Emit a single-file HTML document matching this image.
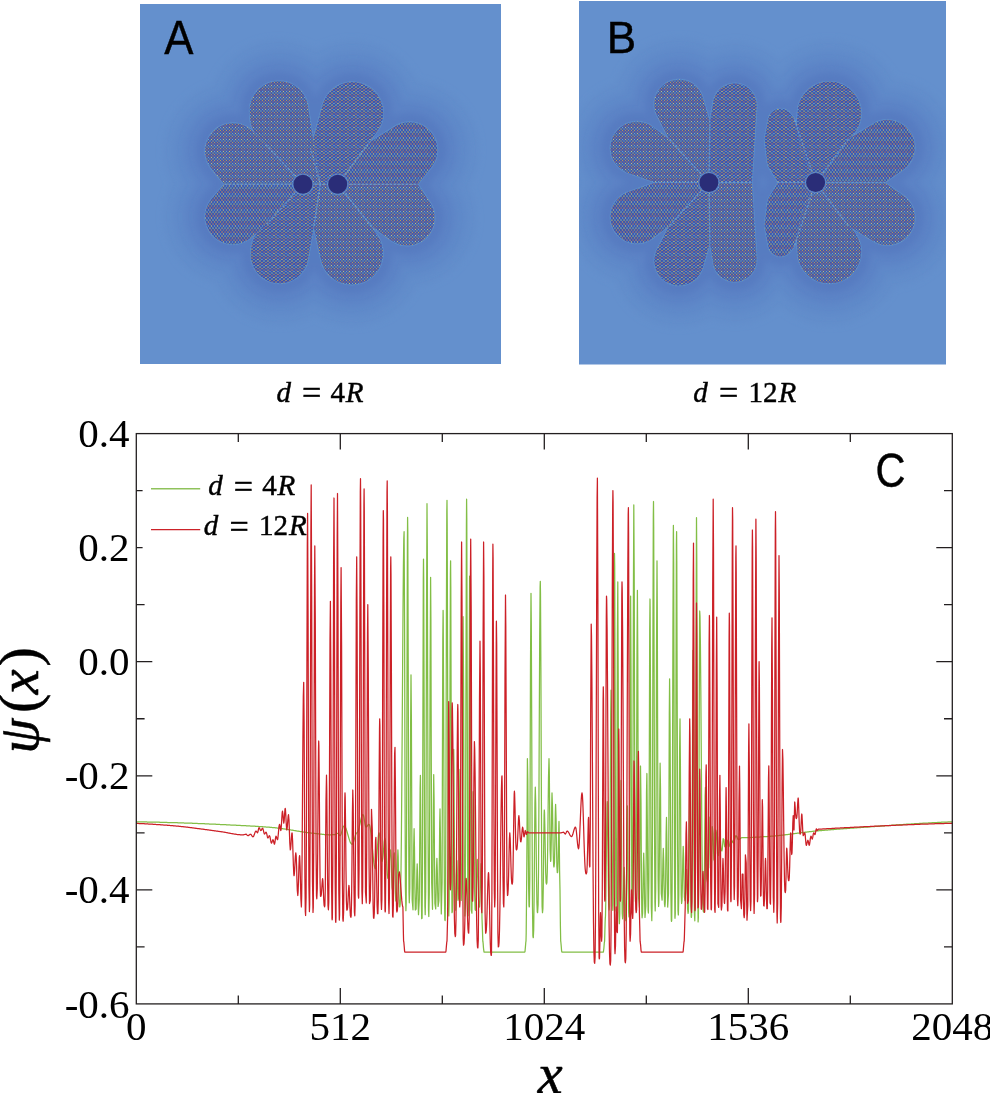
<!DOCTYPE html>
<html lang="en"><head><meta charset="utf-8"><title>Figure</title>
<style>html,body{margin:0;padding:0;background:#fff}svg{display:block}</style>
</head><body>
<svg width="990" height="1093" viewBox="0 0 990 1093">
<rect width="990" height="1093" fill="#ffffff"/>
<defs>
<filter id="blurA" x="-30%" y="-30%" width="160%" height="160%"><feGaussianBlur stdDeviation="13"/></filter>
<filter id="blurB" x="-20%" y="-20%" width="140%" height="140%"><feGaussianBlur stdDeviation="3"/></filter>
<pattern id="fp0" width="6" height="6" patternUnits="userSpaceOnUse"><rect width="6" height="6" fill="#3452b6"/><circle cx="0" cy="0" r="0.74" fill="#b88c5c"/><circle cx="0" cy="3" r="0.74" fill="#a8b070"/><circle cx="0" cy="6" r="0.74" fill="#b88c5c"/><circle cx="3" cy="0" r="0.74" fill="#a07870"/><circle cx="3" cy="3" r="0.74" fill="#80b0a0"/><circle cx="3" cy="6" r="0.74" fill="#a07870"/><circle cx="6" cy="0" r="0.74" fill="#b88c5c"/><circle cx="6" cy="3" r="0.74" fill="#a8b070"/><circle cx="6" cy="6" r="0.74" fill="#b88c5c"/><circle cx="1.5" cy="1.5" r="0.68" fill="#c8c470"/><circle cx="1.5" cy="4.5" r="0.68" fill="#a88a64"/><circle cx="4.5" cy="1.5" r="0.68" fill="#70a8c4"/><circle cx="4.5" cy="4.5" r="0.68" fill="#b8985c"/></pattern>
<pattern id="fp1" width="8" height="6" patternUnits="userSpaceOnUse"><rect width="8" height="6" fill="#3452b6"/><circle cx="0" cy="0" r="0.8544783984006461" fill="#a07870"/><circle cx="0" cy="3" r="0.8544783984006461" fill="#80b0a0"/><circle cx="0" cy="6" r="0.8544783984006461" fill="#a07870"/><circle cx="4" cy="0" r="0.8544783984006461" fill="#b88c5c"/><circle cx="4" cy="3" r="0.8544783984006461" fill="#a8b070"/><circle cx="4" cy="6" r="0.8544783984006461" fill="#b88c5c"/><circle cx="8" cy="0" r="0.8544783984006461" fill="#a07870"/><circle cx="8" cy="3" r="0.8544783984006461" fill="#80b0a0"/><circle cx="8" cy="6" r="0.8544783984006461" fill="#a07870"/><circle cx="2.0" cy="1.5" r="0.79" fill="#c8c470"/><circle cx="2.0" cy="4.5" r="0.79" fill="#a88a64"/><circle cx="6.0" cy="1.5" r="0.79" fill="#70a8c4"/><circle cx="6.0" cy="4.5" r="0.79" fill="#b8985c"/></pattern>
<pattern id="fp2" width="6" height="8" patternUnits="userSpaceOnUse"><rect width="6" height="8" fill="#3452b6"/><circle cx="0" cy="0" r="0.8544783984006461" fill="#b88c5c"/><circle cx="0" cy="4" r="0.8544783984006461" fill="#a8b070"/><circle cx="0" cy="8" r="0.8544783984006461" fill="#b88c5c"/><circle cx="3" cy="0" r="0.8544783984006461" fill="#a07870"/><circle cx="3" cy="4" r="0.8544783984006461" fill="#80b0a0"/><circle cx="3" cy="8" r="0.8544783984006461" fill="#a07870"/><circle cx="6" cy="0" r="0.8544783984006461" fill="#b88c5c"/><circle cx="6" cy="4" r="0.8544783984006461" fill="#a8b070"/><circle cx="6" cy="8" r="0.8544783984006461" fill="#b88c5c"/><circle cx="1.5" cy="2.0" r="0.79" fill="#c8c470"/><circle cx="1.5" cy="6.0" r="0.79" fill="#a88a64"/><circle cx="4.5" cy="2.0" r="0.79" fill="#70a8c4"/><circle cx="4.5" cy="6.0" r="0.79" fill="#b8985c"/></pattern>
<pattern id="fp3" width="6" height="6" patternUnits="userSpaceOnUse"><rect width="6" height="6" fill="#3452b6"/><circle cx="0" cy="0" r="0.74" fill="#a07870"/><circle cx="0" cy="3" r="0.74" fill="#80b0a0"/><circle cx="0" cy="6" r="0.74" fill="#a07870"/><circle cx="3" cy="0" r="0.74" fill="#b88c5c"/><circle cx="3" cy="3" r="0.74" fill="#a8b070"/><circle cx="3" cy="6" r="0.74" fill="#b88c5c"/><circle cx="6" cy="0" r="0.74" fill="#a07870"/><circle cx="6" cy="3" r="0.74" fill="#80b0a0"/><circle cx="6" cy="6" r="0.74" fill="#a07870"/><circle cx="1.5" cy="1.5" r="0.68" fill="#c8c470"/><circle cx="1.5" cy="4.5" r="0.68" fill="#a88a64"/><circle cx="4.5" cy="1.5" r="0.68" fill="#70a8c4"/><circle cx="4.5" cy="4.5" r="0.68" fill="#b8985c"/></pattern>
<pattern id="fp4" width="8" height="6" patternUnits="userSpaceOnUse"><rect width="8" height="6" fill="#3452b6"/><circle cx="0" cy="0" r="0.8544783984006461" fill="#b88c5c"/><circle cx="0" cy="3" r="0.8544783984006461" fill="#a8b070"/><circle cx="0" cy="6" r="0.8544783984006461" fill="#b88c5c"/><circle cx="4" cy="0" r="0.8544783984006461" fill="#a07870"/><circle cx="4" cy="3" r="0.8544783984006461" fill="#80b0a0"/><circle cx="4" cy="6" r="0.8544783984006461" fill="#a07870"/><circle cx="8" cy="0" r="0.8544783984006461" fill="#b88c5c"/><circle cx="8" cy="3" r="0.8544783984006461" fill="#a8b070"/><circle cx="8" cy="6" r="0.8544783984006461" fill="#b88c5c"/><circle cx="2.0" cy="1.5" r="0.79" fill="#c8c470"/><circle cx="2.0" cy="4.5" r="0.79" fill="#a88a64"/><circle cx="6.0" cy="1.5" r="0.79" fill="#70a8c4"/><circle cx="6.0" cy="4.5" r="0.79" fill="#b8985c"/></pattern>
<pattern id="fp5" width="6" height="8" patternUnits="userSpaceOnUse"><rect width="6" height="8" fill="#3452b6"/><circle cx="0" cy="0" r="0.8544783984006461" fill="#a07870"/><circle cx="0" cy="4" r="0.8544783984006461" fill="#80b0a0"/><circle cx="0" cy="8" r="0.8544783984006461" fill="#a07870"/><circle cx="3" cy="0" r="0.8544783984006461" fill="#b88c5c"/><circle cx="3" cy="4" r="0.8544783984006461" fill="#a8b070"/><circle cx="3" cy="8" r="0.8544783984006461" fill="#b88c5c"/><circle cx="6" cy="0" r="0.8544783984006461" fill="#a07870"/><circle cx="6" cy="4" r="0.8544783984006461" fill="#80b0a0"/><circle cx="6" cy="8" r="0.8544783984006461" fill="#a07870"/><circle cx="1.5" cy="2.0" r="0.79" fill="#c8c470"/><circle cx="1.5" cy="6.0" r="0.79" fill="#a88a64"/><circle cx="4.5" cy="2.0" r="0.79" fill="#70a8c4"/><circle cx="4.5" cy="6.0" r="0.79" fill="#b8985c"/></pattern>
<pattern id="hp0" width="2.7" height="6" patternUnits="userSpaceOnUse" patternTransform="rotate(-45)"><rect x="0" y="0" width="0.8" height="6" fill="#e0c880" opacity="0.07"/><rect x="1.35" y="0" width="0.8" height="6" fill="#1c2890" opacity="0.10"/></pattern>
<pattern id="hp1" width="2.7" height="6" patternUnits="userSpaceOnUse" patternTransform="rotate(48)"><rect x="0" y="0" width="0.8" height="6" fill="#e0c880" opacity="0.07"/><rect x="1.35" y="0" width="0.8" height="6" fill="#1c2890" opacity="0.10"/></pattern>
<pattern id="hp2" width="2.7" height="6" patternUnits="userSpaceOnUse" patternTransform="rotate(-38)"><rect x="0" y="0" width="0.8" height="6" fill="#e0c880" opacity="0.07"/><rect x="1.35" y="0" width="0.8" height="6" fill="#1c2890" opacity="0.10"/></pattern>
<pattern id="hp3" width="2.7" height="6" patternUnits="userSpaceOnUse" patternTransform="rotate(40)"><rect x="0" y="0" width="0.8" height="6" fill="#e0c880" opacity="0.07"/><rect x="1.35" y="0" width="0.8" height="6" fill="#1c2890" opacity="0.10"/></pattern>
<pattern id="hp4" width="2.7" height="6" patternUnits="userSpaceOnUse" patternTransform="rotate(-52)"><rect x="0" y="0" width="0.8" height="6" fill="#e0c880" opacity="0.07"/><rect x="1.35" y="0" width="0.8" height="6" fill="#1c2890" opacity="0.10"/></pattern>
<pattern id="hp5" width="2.7" height="6" patternUnits="userSpaceOnUse" patternTransform="rotate(55)"><rect x="0" y="0" width="0.8" height="6" fill="#e0c880" opacity="0.07"/><rect x="1.35" y="0" width="0.8" height="6" fill="#1c2890" opacity="0.10"/></pattern>
</defs>
<g id="panelA">
<clipPath id="clipA"><rect x="140" y="4" width="361" height="360"/></clipPath>
<rect x="140" y="4" width="361" height="360" fill="#6490cd"/>
<g clip-path="url(#clipA)">
<path d="M171.2 183.9L167.9 191.2L165.1 199.9L163.9 206.1L163.1 215.2L163.5 224.3L164.7 231.6L167.3 240.3L170.9 248.7L178.4 260.2L184.5 266.9L189.3 271.1L200.8 278.6L207.5 281.6L215.1 284.1L218.8 291.2L224.1 298.8L230.4 305.7L237.5 311.6L245.3 316.7L253.7 320.6L262.6 323.4L271.7 325.0L282.9 325.4L294.8 323.8L305.5 320.6L314.2 316.5L326.7 322.3L338.6 325.5L350.2 326.7L362.6 325.9L369.3 324.5L378.4 321.6L387.1 317.5L393.6 313.5L401.1 307.5L405.9 302.7L411.9 295.2L416.9 287.0L430.7 283.5L436.6 281.1L444.6 276.7L452.0 271.3L457.3 266.3L465.8 255.5L470.2 247.5L472.6 241.6L475.2 232.9L476.4 225.6L476.8 216.5L475.7 205.6L473.5 196.8L469.3 186.4L474.7 175.5L477.9 165.0L479.4 153.2L478.7 139.5L476.2 128.8L471.7 117.8L465.9 108.5L458.0 99.5L449.5 92.6L439.2 86.6L428.9 82.8L417.7 80.5L411.1 69.7L403.0 60.4L394.1 53.1L383.4 46.9L377.2 44.3L368.0 41.7L358.5 40.3L349.0 40.1L341.5 40.8L332.2 42.9L323.2 46.1L316.3 49.5L305.1 43.9L294.3 40.7L280.4 39.0L268.3 39.8L259.2 41.8L250.4 45.0L242.1 49.3L234.4 54.6L227.5 60.9L221.5 68.1L216.4 76.0L212.6 84.1L200.8 88.8L191.5 94.6L182.5 102.5L175.6 111.0L170.8 118.8L167.2 127.2L164.1 138.7L163.1 147.8L163.3 156.9L164.6 166.0L167.2 174.8Z" fill="#628dcb" filter="url(#blurB)"/>
<path d="M184.0 183.9L179.7 191.5L176.9 198.7L175.0 206.1L174.2 213.8L174.3 221.5L175.4 229.1L177.6 236.5L180.6 243.5L188.0 254.6L197.9 263.9L209.5 270.5L216.7 273.1L223.1 274.6L226.3 281.9L231.4 290.2L237.9 297.6L243.9 302.7L250.5 307.0L257.6 310.3L265.1 312.7L272.8 314.1L284.5 314.3L294.1 312.7L305.2 308.7L314.4 303.4L324.9 309.7L336.4 313.8L348.5 315.6L360.8 315.0L368.8 313.3L374.6 311.3L382.0 307.8L387.2 304.6L393.6 299.5L400.6 292.0L405.2 285.3L409.5 276.6L415.7 276.0L423.2 274.4L430.4 271.8L437.3 268.3L443.6 263.9L449.3 258.7L457.4 248.2L460.9 241.3L463.5 234.1L465.1 226.6L465.8 216.9L465.1 209.2L463.0 200.0L460.2 192.8L456.3 185.9L462.8 175.2L466.7 164.3L468.4 152.8L467.8 141.3L465.7 132.0L462.0 123.0L456.9 114.9L450.5 107.6L441.4 100.4L431.1 95.1L420.0 92.0L410.4 91.0L405.6 81.1L398.3 71.4L389.3 63.2L378.9 57.0L371.4 54.0L363.5 52.0L355.4 51.1L347.3 51.2L339.3 52.4L331.5 54.6L324.1 57.9L316.1 62.7L304.8 55.8L293.7 51.8L281.9 50.1L270.1 50.7L262.4 52.3L254.9 55.0L247.9 58.6L241.4 63.1L235.5 68.4L229.3 76.1L224.3 84.7L221.0 93.2L209.5 96.9L199.4 102.5L190.6 110.0L183.4 119.1L178.9 127.5L176.3 134.8L174.4 144.3L174.0 152.0L174.7 159.7L176.8 169.0L179.7 176.2Z" fill="#5f89c9" filter="url(#blurB)"/>
<path d="M230.1 103.1L223.0 104.1L217.0 105.8L209.6 109.1L204.3 112.5L199.5 116.6L194.5 122.3L190.2 129.2L187.8 135.0L185.8 142.3L185.1 148.5L185.2 154.8L186.1 161.0L187.8 167.0L190.2 172.8L193.5 178.2L197.9 183.9L191.8 192.1L187.4 201.9L185.4 211.0L185.4 222.2L186.6 228.3L189.0 235.5L192.8 242.6L197.4 248.6L204.3 254.9L212.4 259.8L221.2 262.9L231.6 264.4L234.6 273.9L239.2 282.3L245.4 289.6L252.9 295.6L260.2 299.5L267.6 302.0L275.7 303.3L285.3 303.2L292.9 301.7L300.7 298.7L307.4 294.9L314.5 288.9L319.7 293.7L325.3 297.5L331.3 300.5L337.6 302.8L344.2 304.2L350.9 304.7L357.7 304.3L364.3 303.1L370.7 301.0L377.9 297.5L383.5 293.7L388.5 289.1L392.8 284.0L396.5 278.4L399.4 272.3L401.6 265.4L409.5 265.6L415.7 264.9L421.7 263.4L427.5 261.1L434.1 257.3L439.0 253.4L443.4 248.9L447.1 243.9L450.9 236.8L453.3 229.6L454.6 221.7L454.6 214.1L453.7 207.9L451.4 200.2L448.1 193.4L442.7 185.3L451.4 173.4L454.1 167.8L456.4 160.0L457.3 153.8L457.3 146.2L456.4 140.0L454.1 132.2L450.7 125.4L446.0 118.9L439.2 112.3L432.9 108.1L425.5 104.8L418.2 102.8L410.2 102.0L402.3 102.6L399.3 92.9L394.4 84.1L388.0 76.5L380.2 70.2L372.5 66.1L365.0 63.6L356.4 62.2L346.4 62.4L338.6 63.9L329.3 67.6L321.9 72.1L315.8 77.5L311.1 72.9L306.0 69.0L300.3 65.8L294.3 63.4L288.0 61.8L281.6 61.1L275.1 61.2L268.7 62.1L262.5 63.8L254.8 67.3L248.4 71.6L243.5 76.0L239.3 80.9L234.9 88.0L231.9 95.2Z" fill="#5b83c6" filter="url(#blurB)"/>
<path d="M240.7 114.8L235.1 114.1L228.5 114.3L221.4 115.9L216.4 118.0L210.7 121.5L206.6 125.0L202.1 130.7L198.9 136.6L196.8 143.5L196.1 148.9L196.3 155.5L197.3 160.9L199.7 167.1L202.1 171.3L212.3 184.1L203.5 194.4L199.0 202.2L196.5 211.5L196.4 221.1L198.2 228.7L201.2 235.3L206.7 242.4L212.2 247.0L219.1 250.7L226.0 252.7L233.2 253.4L241.7 252.3L241.9 259.2L242.8 264.0L246.5 273.2L252.5 281.2L260.3 287.3L267.7 290.6L274.9 292.2L284.3 292.2L291.5 290.6L298.3 287.6L304.9 282.9L309.9 277.4L314.5 269.5L318.1 275.9L322.8 281.6L328.9 286.7L334.0 289.6L340.8 292.2L348.7 293.6L354.5 293.6L362.4 292.2L369.2 289.6L374.3 286.7L380.0 282.0L383.9 277.6L387.8 271.4L390.0 265.9L391.7 258.8L392.0 251.5L397.8 253.5L404.9 254.6L411.5 254.4L418.5 252.8L425.1 249.9L429.6 246.9L434.5 242.4L438.7 236.6L441.7 230.0L443.1 224.8L443.8 218.2L443.1 211.0L439.9 201.4L429.1 184.8L440.4 170.3L443.6 164.4L445.2 159.9L446.4 152.7L446.4 147.3L445.3 140.7L443.6 135.6L439.0 127.7L434.1 122.4L428.3 118.1L421.7 115.1L414.0 113.3L406.8 113.1L399.6 114.3L392.1 117.3L392.3 110.7L391.7 105.5L388.1 95.0L384.3 88.9L380.9 84.9L372.7 78.5L365.0 75.0L357.3 73.3L347.5 73.3L339.8 75.0L332.7 78.2L325.8 83.1L319.3 90.5L315.4 97.9L312.5 91.5L308.1 85.3L302.7 80.1L296.3 76.1L289.2 73.4L283.7 72.3L276.2 72.1L268.8 73.4L262.2 75.8L255.8 79.8L251.6 83.5L247.2 88.9L243.5 95.5L241.7 100.8L240.6 107.7Z" fill="#567cc1" filter="url(#blurB)"/>
<path d="M251.9 129.4L248.9 127.1L245.7 125.3L244.0 124.5L240.4 123.3L236.7 122.5L233.0 122.3L229.3 122.5L227.4 122.9L223.8 123.8L220.3 125.2L217.1 127.1L215.5 128.2L212.7 130.7L210.2 133.5L209.1 135.1L207.3 138.3L206.5 140.0L205.3 143.5L204.8 145.4L204.4 149.1L204.4 152.9L204.5 154.8L205.3 158.4L205.8 160.2L207.2 163.7L208.1 165.3L210.2 168.5L223.1 184.3L211.5 197.8L209.2 200.7L208.2 202.4L206.6 205.7L205.4 209.2L205.0 211.0L204.5 214.8L204.5 218.5L204.6 220.3L205.4 224.0L206.6 227.5L208.2 230.8L210.3 234.0L211.5 235.4L214.1 238.0L217.0 240.3L220.3 242.2L223.7 243.6L227.4 244.6L231.1 245.0L232.9 245.1L236.6 244.9L240.3 244.1L243.8 242.9L247.2 241.3L250.2 239.2L254.1 236.0L251.9 241.0L250.9 244.7L250.6 246.6L249.9 254.5L250.2 258.4L250.9 262.2L251.5 264.1L253.0 267.6L253.9 269.4L256.1 272.6L258.6 275.5L260.0 276.8L263.1 279.2L264.8 280.2L266.5 281.1L270.0 282.6L273.8 283.6L275.7 283.9L279.6 284.2L283.5 283.9L287.3 283.2L290.9 281.9L292.7 281.1L296.1 279.2L297.7 278.0L300.6 275.5L303.1 272.6L305.3 269.4L307.0 265.9L308.3 262.2L313.8 231.6L320.5 261.6L321.8 265.5L322.7 267.4L324.8 271.1L327.4 274.4L330.4 277.4L333.7 280.0L337.3 282.1L341.2 283.7L343.3 284.3L347.4 285.1L351.6 285.4L355.8 285.1L360.0 284.3L363.9 283.0L365.8 282.1L369.5 280.0L372.8 277.4L374.4 276.0L377.1 272.8L379.5 269.3L381.4 265.5L382.7 261.5L383.5 257.4L383.8 253.2L383.5 249.0L383.2 246.9L382.1 242.8L380.5 238.9L378.4 235.3L374.5 229.6L391.1 241.6L392.8 242.6L396.1 244.2L399.6 245.4L401.5 245.9L405.2 246.3L407.0 246.4L410.7 246.2L414.4 245.4L417.9 244.2L421.2 242.6L424.3 240.5L427.1 238.1L429.6 235.3L431.7 232.1L433.3 228.8L434.0 227.0L434.9 223.5L435.3 221.6L435.5 217.9L435.4 216.0L435.0 212.4L434.5 210.5L433.3 207.0L431.7 203.6L418.9 184.3L432.3 167.5L434.4 164.3L436.0 161.0L437.2 157.5L437.7 155.6L438.1 151.9L438.2 150.0L438.0 146.3L437.6 144.4L436.7 140.8L436.0 139.0L435.2 137.3L433.4 134.1L431.1 131.1L428.4 128.4L425.4 126.1L422.2 124.2L420.5 123.5L417.0 122.3L413.3 121.5L409.5 121.3L405.8 121.5L403.9 121.9L400.3 122.8L396.8 124.2L395.1 125.2L372.3 139.5L378.8 130.6L380.8 127.0L381.7 125.1L383.0 121.2L383.8 117.2L384.1 113.0L384.0 110.9L383.5 106.8L382.4 102.8L380.8 99.0L378.8 95.4L377.5 93.7L374.8 90.6L371.7 87.8L368.2 85.5L364.6 83.7L362.6 83.0L358.6 81.9L354.5 81.4L352.4 81.3L348.3 81.6L344.2 82.4L340.2 83.7L336.6 85.5L334.8 86.6L331.5 89.2L328.6 92.1L326.1 95.4L324.0 99.0L323.1 100.9L321.8 104.8L313.4 135.5L308.9 106.5L308.2 102.7L307.6 100.8L306.1 97.1L304.1 93.7L301.7 90.6L298.9 87.8L295.8 85.4L292.4 83.4L290.6 82.6L286.8 81.3L283.0 80.6L281.0 80.4L277.0 80.4L273.1 80.9L271.2 81.3L267.5 82.6L263.9 84.3L262.2 85.4L259.1 87.8L257.6 89.2L255.1 92.1L252.9 95.4L251.1 98.9L250.4 100.8L249.4 104.6L249.1 106.6L248.8 110.5L248.9 112.5L249.3 119.0L249.8 122.9L250.8 126.7Z" fill="#64a5d7" opacity="0.45"/>
<path d="M409.5 122.0L404.0 122.5L400.5 123.5L397.1 124.9L369.5 142.0L337.7 184.3L418.0 184.3L431.7 167.0L434.6 162.4L436.0 159.0L437.0 155.5L437.4 151.8L437.3 146.3L436.5 142.8L434.6 137.6L431.7 133.0L428.0 128.9L425.1 126.7L420.2 124.1L415.0 122.5Z" fill="url(#fp2)" stroke="#5f94d6" stroke-width="0.6" stroke-opacity="0.4"/>
<path d="M409.5 122.0L404.0 122.5L400.5 123.5L397.1 124.9L369.5 142.0L337.7 184.3L418.0 184.3L431.7 167.0L434.6 162.4L436.0 159.0L437.0 155.5L437.4 151.8L437.3 146.3L436.5 142.8L434.6 137.6L431.7 133.0L428.0 128.9L425.1 126.7L420.2 124.1L415.0 122.5Z" fill="url(#hp2)"/>
<path d="M352.4 82.0L348.4 82.3L344.4 83.1L340.5 84.4L336.9 86.2L335.2 87.2L332.0 89.7L330.5 91.1L327.8 94.1L325.6 97.5L324.6 99.3L323.0 103.0L310.6 148.5L320.3 184.3L337.7 184.3L377.0 131.9L379.2 128.5L381.0 124.9L381.8 123.0L382.8 119.0L383.3 115.0L383.3 111.0L382.8 107.0L382.3 105.0L381.0 101.1L379.2 97.5L377.0 94.1L374.3 91.1L371.3 88.4L367.9 86.2L366.1 85.2L364.3 84.4L360.4 83.1L356.4 82.3Z" fill="url(#fp1)" stroke="#5f94d6" stroke-width="0.6" stroke-opacity="0.4"/>
<path d="M352.4 82.0L348.4 82.3L344.4 83.1L340.5 84.4L336.9 86.2L335.2 87.2L332.0 89.7L330.5 91.1L327.8 94.1L325.6 97.5L324.6 99.3L323.0 103.0L310.6 148.5L320.3 184.3L337.7 184.3L377.0 131.9L379.2 128.5L381.0 124.9L381.8 123.0L382.8 119.0L383.3 115.0L383.3 111.0L382.8 107.0L382.3 105.0L381.0 101.1L379.2 97.5L377.0 94.1L374.3 91.1L371.3 88.4L367.9 86.2L366.1 85.2L364.3 84.4L360.4 83.1L356.4 82.3Z" fill="url(#hp1)"/>
<path d="M279.0 81.0L275.1 81.3L271.4 82.0L267.7 83.2L264.2 85.0L261.0 87.1L258.1 89.6L255.6 92.5L253.5 95.7L251.7 99.2L250.5 102.9L249.8 106.6L249.6 108.6L249.6 112.4L250.2 120.9L250.9 124.7L252.2 128.3L253.0 130.1L254.9 133.4L257.2 136.5L302.9 184.3L320.3 184.3L308.2 106.6L307.5 102.9L306.3 99.2L304.5 95.8L302.4 92.5L299.9 89.6L298.5 88.3L295.4 86.0L292.0 84.0L290.3 83.2L286.6 82.0L282.9 81.3Z" fill="url(#fp0)" stroke="#5f94d6" stroke-width="0.6" stroke-opacity="0.4"/>
<path d="M279.0 81.0L275.1 81.3L271.4 82.0L267.7 83.2L264.2 85.0L261.0 87.1L258.1 89.6L255.6 92.5L253.5 95.7L251.7 99.2L250.5 102.9L249.8 106.6L249.6 108.6L249.6 112.4L250.2 120.9L250.9 124.7L252.2 128.3L253.0 130.1L254.9 133.4L257.2 136.5L302.9 184.3L320.3 184.3L308.2 106.6L307.5 102.9L306.3 99.2L304.5 95.8L302.4 92.5L299.9 89.6L298.5 88.3L295.4 86.0L292.0 84.0L290.3 83.2L286.6 82.0L282.9 81.3Z" fill="url(#hp0)"/>
<path d="M233.0 123.0L227.5 123.5L224.0 124.5L219.0 126.8L214.5 129.9L210.8 134.0L207.9 138.6L206.5 142.0L205.2 147.3L205.0 151.0L205.2 154.7L206.5 160.0L207.9 163.4L210.8 168.0L224.0 184.3L302.9 184.3L264.6 143.3L251.5 129.9L248.6 127.7L243.7 125.1L238.5 123.5Z" fill="url(#fp3)" stroke="#5f94d6" stroke-width="0.6" stroke-opacity="0.4"/>
<path d="M233.0 123.0L227.5 123.5L224.0 124.5L219.0 126.8L214.5 129.9L210.8 134.0L207.9 138.6L206.5 142.0L205.2 147.3L205.0 151.0L205.2 154.7L206.5 160.0L207.9 163.4L210.8 168.0L224.0 184.3L302.9 184.3L264.6 143.3L251.5 129.9L248.6 127.7L243.7 125.1L238.5 123.5Z" fill="url(#hp3)"/>
<path d="M224.0 184.3L210.8 199.7L208.0 204.3L206.0 209.4L205.3 213.0L205.1 216.6L205.3 220.2L206.6 225.5L208.8 230.5L210.8 233.5L214.6 237.5L219.0 240.7L222.3 242.3L227.5 243.9L232.9 244.4L236.5 244.2L240.1 243.5L243.5 242.3L246.8 240.7L249.8 238.7L267.0 224.2L302.9 184.3Z" fill="url(#fp2)" stroke="#5f94d6" stroke-width="0.6" stroke-opacity="0.4"/>
<path d="M224.0 184.3L210.8 199.7L208.0 204.3L206.0 209.4L205.3 213.0L205.1 216.6L205.3 220.2L206.6 225.5L208.8 230.5L210.8 233.5L214.6 237.5L219.0 240.7L222.3 242.3L227.5 243.9L232.9 244.4L236.5 244.2L240.1 243.5L243.5 242.3L246.8 240.7L249.8 238.7L267.0 224.2L302.9 184.3Z" fill="url(#hp2)"/>
<path d="M302.9 184.3L258.2 231.4L257.0 232.8L254.9 236.0L254.0 237.7L252.5 241.2L251.6 244.8L251.2 246.7L250.6 254.5L250.8 258.3L251.2 260.2L251.6 262.0L252.8 265.6L253.6 267.3L255.5 270.6L256.6 272.2L259.1 275.0L261.9 277.5L263.5 278.6L266.8 280.5L270.3 282.0L272.1 282.5L275.8 283.3L279.6 283.5L281.5 283.4L283.4 283.3L287.1 282.5L290.7 281.3L292.4 280.5L294.1 279.6L297.3 277.5L300.1 275.0L301.4 273.6L303.7 270.6L304.7 269.0L305.6 267.3L307.1 263.8L308.0 260.2L313.7 228.0L320.3 184.3Z" fill="url(#fp1)" stroke="#5f94d6" stroke-width="0.6" stroke-opacity="0.4"/>
<path d="M302.9 184.3L258.2 231.4L257.0 232.8L254.9 236.0L254.0 237.7L252.5 241.2L251.6 244.8L251.2 246.7L250.6 254.5L250.8 258.3L251.2 260.2L251.6 262.0L252.8 265.6L253.6 267.3L255.5 270.6L256.6 272.2L259.1 275.0L261.9 277.5L263.5 278.6L266.8 280.5L270.3 282.0L272.1 282.5L275.8 283.3L279.6 283.5L281.5 283.4L283.4 283.3L287.1 282.5L290.7 281.3L292.4 280.5L294.1 279.6L297.3 277.5L300.1 275.0L301.4 273.6L303.7 270.6L304.7 269.0L305.6 267.3L307.1 263.8L308.0 260.2L313.7 228.0L320.3 184.3Z" fill="url(#hp1)"/>
<path d="M320.3 184.3L313.7 228.0L321.2 261.4L322.5 265.3L323.3 267.1L324.3 268.9L326.6 272.4L327.9 274.0L330.8 276.9L334.1 279.4L335.9 280.5L337.7 281.5L341.5 283.0L345.5 284.1L347.5 284.4L351.6 284.7L353.7 284.6L355.7 284.4L359.8 283.6L363.7 282.3L365.5 281.5L367.4 280.5L370.8 278.2L372.4 276.9L375.3 274.0L377.8 270.7L378.9 268.9L379.9 267.1L381.4 263.3L382.5 259.3L382.8 257.3L383.1 253.2L383.0 251.1L382.8 249.1L382.0 245.0L380.7 241.1L379.9 239.3L377.8 235.7L371.8 226.7L337.7 184.3Z" fill="url(#fp0)" stroke="#5f94d6" stroke-width="0.6" stroke-opacity="0.4"/>
<path d="M320.3 184.3L313.7 228.0L321.2 261.4L322.5 265.3L323.3 267.1L324.3 268.9L326.6 272.4L327.9 274.0L330.8 276.9L334.1 279.4L335.9 280.5L337.7 281.5L341.5 283.0L345.5 284.1L347.5 284.4L351.6 284.7L353.7 284.6L355.7 284.4L359.8 283.6L363.7 282.3L365.5 281.5L367.4 280.5L370.8 278.2L372.4 276.9L375.3 274.0L377.8 270.7L378.9 268.9L379.9 267.1L381.4 263.3L382.5 259.3L382.8 257.3L383.1 253.2L383.0 251.1L382.8 249.1L382.0 245.0L380.7 241.1L379.9 239.3L377.8 235.7L371.8 226.7L337.7 184.3Z" fill="url(#hp0)"/>
<path d="M337.7 184.3L371.8 226.7L391.6 241.0L394.7 242.8L399.8 244.8L405.2 245.6L410.6 245.5L415.9 244.2L420.9 242.0L425.3 238.8L429.1 234.8L431.9 230.2L433.9 225.1L434.7 219.7L434.6 214.3L433.3 209.0L431.1 204.0L418.0 184.3Z" fill="url(#fp3)" stroke="#5f94d6" stroke-width="0.6" stroke-opacity="0.4"/>
<path d="M337.7 184.3L371.8 226.7L391.6 241.0L394.7 242.8L399.8 244.8L405.2 245.6L410.6 245.5L415.9 244.2L420.9 242.0L425.3 238.8L429.1 234.8L431.9 230.2L433.9 225.1L434.7 219.7L434.6 214.3L433.3 209.0L431.1 204.0L418.0 184.3Z" fill="url(#hp3)"/>
<path d="M302.9 184.3L264.6 143.3M302.9 184.3L267.0 224.2M302.9 184.3L224.0 184.3M337.7 184.3L418.0 184.3M337.7 184.3L369.5 142.0M337.7 184.3L371.8 226.7M320.3 184.3L310.6 148.5M320.3 184.3L313.7 228.0M302.9 184.3L337.7 184.3" stroke="#6aa8e0" stroke-width="1.5" stroke-dasharray="2.2 1.8" stroke-opacity="0.6" fill="none"/>
<circle cx="302.9" cy="184.3" r="10.8" fill="#5f94d6" opacity="0.6"/>
<circle cx="302.9" cy="184.3" r="9.5" fill="#2a2d78"/>
<circle cx="337.7" cy="184.3" r="10.8" fill="#5f94d6" opacity="0.6"/>
<circle cx="337.7" cy="184.3" r="9.5" fill="#2a2d78"/>
</g></g>
<g id="panelB">
<clipPath id="clipB"><rect x="579" y="1" width="367" height="363.5"/></clipPath>
<rect x="579" y="1" width="367" height="363.5" fill="#6490cd"/>
<g clip-path="url(#clipB)">
<path d="M577.6 182.5L573.0 192.0L570.3 200.6L568.7 209.4L568.3 218.4L569.4 229.0L571.5 237.7L574.8 246.1L579.1 254.0L586.2 263.2L594.1 270.6L603.8 277.1L615.6 282.2L619.6 291.6L624.2 299.1L630.7 307.1L637.2 313.0L644.4 318.0L654.7 323.1L663.0 325.8L671.6 327.3L682.0 327.6L693.4 326.1L703.3 323.1L711.3 319.4L719.6 322.1L727.8 323.5L737.6 323.8L745.9 322.9L754.1 320.9L764.3 316.7L772.7 311.5L779.2 306.0L787.1 312.3L795.3 317.3L804.2 321.2L813.5 323.9L825.8 325.5L835.5 325.3L845.1 323.9L854.4 321.2L867.5 315.0L877.0 308.1L887.2 297.7L894.3 286.9L906.7 284.6L916.9 280.7L927.1 274.8L935.6 267.9L944.4 257.5L950.3 247.3L954.2 237.1L956.5 225.5L956.8 214.6L955.3 202.9L952.1 192.5L947.3 182.5L952.1 172.6L955.3 162.2L956.8 150.5L956.6 141.4L955.3 132.4L953.6 126.3L950.3 117.8L945.9 109.8L940.5 102.5L935.6 97.2L928.6 91.3L923.3 87.8L916.9 84.4L908.4 81.1L894.3 78.2L890.0 71.3L884.0 63.7L877.0 57.0L869.3 51.2L860.8 46.5L854.4 43.9L845.1 41.2L837.6 40.0L823.1 39.8L816.2 40.7L806.8 43.0L797.8 46.5L791.1 50.1L779.2 59.1L771.5 52.8L761.9 47.2L752.7 43.8L741.8 41.6L733.4 41.2L725.1 41.9L711.3 45.7L703.3 42.0L695.0 39.3L684.7 37.7L676.0 37.5L668.9 38.2L660.4 40.1L646.8 45.7L635.9 53.1L627.8 61.2L620.4 72.1L615.6 82.9L603.8 88.0L592.7 95.6L583.3 105.3L576.0 116.5L572.4 124.8L569.9 133.4L568.6 142.2L568.3 149.5L569.1 158.4L571.0 167.2L574.1 175.6Z" fill="#628dcb" filter="url(#blurB)"/>
<path d="M590.8 182.6L586.5 189.1L582.7 197.5L580.6 204.8L579.4 214.2L579.5 221.8L581.0 230.9L583.3 238.1L587.5 246.7L594.3 255.7L602.7 263.3L612.3 269.1L624.5 273.2L627.8 283.1L632.0 291.0L637.7 298.4L644.2 304.5L650.2 308.7L658.6 312.8L665.5 315.0L672.7 316.3L683.7 316.5L692.5 315.0L701.3 312.0L710.5 307.0L720.1 310.8L728.9 312.6L739.3 312.7L747.5 311.3L757.3 307.9L765.1 303.4L773.0 296.6L778.9 289.3L785.5 296.9L793.5 303.4L802.4 308.5L810.0 311.6L820.1 313.9L828.3 314.6L838.5 313.9L848.6 311.6L859.9 306.7L866.8 302.2L871.6 298.3L876.0 293.9L881.1 287.4L887.2 276.3L897.8 275.4L908.8 272.2L917.5 267.9L926.7 261.1L933.2 254.2L939.4 244.6L943.6 233.9L945.5 224.4L945.7 213.0L943.6 201.7L939.4 191.0L934.1 182.6L938.6 175.7L942.5 167.1L944.6 159.7L945.8 150.1L945.5 140.7L943.6 131.2L940.3 122.3L936.6 115.7L928.0 105.2L922.2 100.3L915.8 96.1L908.8 92.9L901.6 90.5L894.0 89.2L887.2 88.8L883.3 81.1L877.3 72.7L870.1 65.5L863.4 60.6L856.2 56.6L850.5 54.2L842.6 51.9L836.5 50.9L828.3 50.5L820.1 51.2L812.0 52.9L804.3 55.7L796.9 59.5L790.2 64.1L784.0 69.7L778.9 75.8L771.5 67.0L763.4 60.6L754.1 55.9L742.7 52.8L735.8 52.2L726.9 52.8L718.7 54.7L710.5 58.1L702.8 53.7L694.4 50.6L685.3 48.8L678.0 48.4L665.5 50.1L658.6 52.3L651.9 55.4L642.9 61.6L634.0 71.1L628.4 80.5L624.5 91.9L612.3 96.0L601.0 103.0L591.8 112.2L584.8 123.5L582.0 130.6L580.2 137.9L579.3 147.1L579.7 154.6L581.0 162.0L583.3 169.2L586.5 176.0Z" fill="#5f89c9" filter="url(#blurB)"/>
<path d="M605.5 182.6L599.5 189.2L595.4 195.8L592.6 202.6L590.8 210.3L590.3 217.7L591.1 225.4L593.0 232.6L596.2 239.7L602.3 248.2L611.6 256.1L622.5 261.3L634.2 263.5L635.8 273.1L639.0 281.2L643.8 288.6L649.9 295.0L656.0 299.3L661.2 302.0L668.0 304.3L673.8 305.4L684.2 305.4L692.8 303.5L702.0 299.3L709.7 293.6L718.1 298.4L727.3 301.2L736.9 301.8L746.3 300.3L755.2 296.6L763.0 291.0L769.3 283.8L773.6 275.9L783.6 276.4L788.5 283.8L795.5 291.1L802.7 296.3L812.0 300.6L819.8 302.7L828.6 303.6L836.7 303.1L845.4 301.0L855.9 296.3L861.5 292.4L866.5 287.9L870.9 282.7L874.7 277.0L877.6 270.9L879.6 264.6L889.9 265.2L900.3 263.5L910.6 259.3L918.2 253.9L923.5 248.6L928.9 241.0L932.6 232.4L934.6 223.3L934.6 212.3L932.2 201.9L927.2 192.0L923.5 187.0L919.2 182.6L925.5 175.7L929.7 168.9L932.6 161.9L934.4 154.1L934.9 146.6L934.1 138.7L931.5 129.7L928.2 123.0L923.5 116.5L919.2 112.0L913.2 107.5L907.8 104.4L902.0 102.1L894.2 100.3L886.7 99.8L879.6 100.5L877.1 93.0L872.9 85.2L868.8 79.7L863.1 74.0L855.9 68.8L849.8 65.7L843.4 63.5L835.4 61.9L828.6 61.5L821.9 62.0L815.2 63.5L808.8 65.7L801.0 69.9L794.5 74.8L788.5 81.3L783.6 88.7L773.6 89.2L768.5 80.2L762.0 73.2L754.0 67.8L743.6 64.1L734.1 63.2L726.0 64.1L716.8 67.3L709.7 71.5L704.5 67.3L698.3 63.8L692.8 61.6L685.5 59.9L679.7 59.4L672.5 59.9L665.2 61.6L658.6 64.3L648.9 71.0L641.3 79.9L636.3 90.5L634.2 101.6L627.2 102.5L621.3 104.2L610.5 109.7L605.7 113.5L600.3 119.2L594.1 129.7L591.7 136.7L590.5 144.4L590.4 150.5L591.3 157.8L593.0 163.7L596.2 170.8L600.3 177.0Z" fill="#5b83c6" filter="url(#blurB)"/>
<path d="M646.5 113.8L641.3 112.8L634.3 112.6L628.0 113.6L621.4 116.0L615.5 119.7L611.5 123.1L607.1 128.6L604.1 134.2L601.9 141.4L601.3 148.4L602.0 155.3L604.8 163.6L608.8 170.0L613.7 175.1L619.4 179.1L627.6 182.6L620.9 185.2L615.5 188.6L611.5 192.0L607.5 197.0L604.8 201.5L602.4 208.1L601.4 215.0L601.6 221.4L603.3 228.7L607.1 236.5L611.5 242.0L617.4 246.8L623.6 250.0L632.0 252.3L639.5 252.5L646.5 251.3L645.4 256.7L645.2 263.3L646.3 269.9L648.5 275.5L651.0 279.9L655.2 285.0L659.9 288.8L665.8 292.0L672.1 294.0L677.1 294.6L683.7 294.4L690.2 292.8L696.2 290.0L701.1 286.5L705.7 281.7L708.8 276.8L711.7 280.6L715.7 284.3L719.6 286.9L724.6 289.2L729.0 290.4L734.5 290.9L739.1 290.6L744.5 289.3L748.8 287.6L753.4 284.7L759.6 278.5L762.5 273.9L764.2 269.6L765.8 259.8L771.3 263.5L777.4 265.4L783.6 265.4L790.0 263.4L793.6 271.8L798.7 278.9L804.6 284.3L813.3 289.4L819.0 291.3L826.3 292.5L832.3 292.5L839.6 291.3L845.3 289.4L851.8 285.8L856.6 282.2L862.0 276.3L865.9 270.0L868.2 264.5L869.9 257.2L870.3 250.0L877.7 253.0L884.7 254.2L891.9 254.0L899.4 252.3L905.9 249.3L913.0 243.8L917.6 238.3L921.0 232.0L923.1 225.2L923.9 218.1L923.3 211.0L921.2 204.1L917.9 197.8L913.4 192.2L900.7 182.6L913.4 172.9L917.9 167.3L921.2 161.0L923.3 154.1L923.9 147.0L922.7 138.1L920.3 131.4L916.2 124.8L911.2 119.7L905.4 115.5L898.9 112.6L891.9 111.1L884.7 110.9L877.7 112.1L870.3 115.1L870.0 108.4L868.8 102.6L866.2 95.6L863.5 91.0L856.1 82.5L851.8 79.3L845.3 75.7L837.6 73.3L831.7 72.6L823.7 72.9L815.8 74.8L806.8 79.3L800.1 84.7L793.9 92.7L790.0 101.7L783.6 99.7L777.4 99.7L771.3 101.6L765.8 105.3L764.2 95.5L760.4 87.7L756.9 83.5L753.4 80.4L745.0 75.9L740.6 74.7L735.1 74.2L730.5 74.5L724.6 75.9L719.6 78.2L715.7 80.8L711.7 84.5L708.8 88.3L702.8 80.1L698.1 76.3L693.7 73.8L683.7 70.7L678.7 70.4L672.7 71.0L665.8 73.1L659.9 76.3L653.7 81.7L649.8 87.1L646.8 93.7L645.4 100.2L645.2 106.8ZM761.6 191.9L761.0 182.6L761.6 173.2L767.4 182.6Z" fill="#567cc1" filter="url(#blurB)"/>
<path d="M796.1 122.0L794.6 117.6L789.8 111.7L788.5 110.5L786.4 109.2L784.7 108.5L782.2 107.9L779.6 107.8L777.1 108.2L774.7 109.2L772.5 110.5L771.2 111.7L769.5 113.7L768.3 115.9L767.6 118.4L764.1 136.7L763.8 140.0L763.9 142.2L766.5 162.3L767.2 165.7L768.1 167.8L777.2 182.6L768.1 197.3L767.2 199.4L766.5 202.8L763.9 222.9L763.8 225.1L764.1 228.4L767.7 247.5L768.3 249.2L769.5 251.5L771.2 253.4L773.1 255.1L775.4 256.3L777.9 257.0L779.7 257.3L782.2 257.2L784.7 256.6L786.4 255.9L788.5 254.6L789.8 253.4L794.6 247.5L796.1 243.1L796.9 255.8L797.2 258.0L798.3 262.1L800.0 266.0L801.0 268.0L803.4 271.5L806.2 274.7L809.4 277.5L812.9 279.9L816.8 281.8L820.8 283.2L825.0 284.0L829.3 284.3L833.5 284.0L837.7 283.2L841.8 281.8L845.6 279.9L849.2 277.6L850.9 276.2L853.9 273.1L856.5 269.7L858.6 266.0L860.3 262.1L861.4 258.0L861.9 253.8L861.9 249.5L861.4 245.2L860.3 241.1L858.6 237.2L856.5 233.5L854.5 230.8L874.9 243.1L878.3 244.5L880.1 245.0L883.7 245.8L887.4 246.0L891.1 245.8L894.7 245.0L898.2 243.9L901.5 242.2L904.5 240.2L907.3 237.8L909.8 235.0L911.8 231.9L913.5 228.6L914.6 225.1L915.4 221.5L915.6 217.8L915.4 214.1L914.6 210.5L913.5 207.0L912.7 205.3L910.9 202.2L909.8 200.6L907.4 197.9L906.0 196.6L903.1 194.4L886.2 182.6L904.6 169.7L907.4 167.2L910.8 163.0L911.8 161.4L913.4 158.1L914.6 154.6L915.1 152.8L915.5 149.2L915.6 147.3L915.4 143.6L914.6 140.0L913.4 136.5L911.8 133.2L908.6 128.7L906.0 126.1L901.5 122.9L898.2 121.2L894.7 120.1L889.3 119.2L887.4 119.1L883.7 119.3L880.1 120.1L876.6 121.3L873.3 122.9L854.5 134.3L857.6 129.9L859.5 126.0L860.9 122.0L861.7 117.8L862.0 113.5L861.7 109.3L860.9 105.1L859.5 101.0L857.6 97.2L855.3 93.6L852.4 90.4L849.2 87.6L845.7 85.2L841.8 83.3L837.8 81.9L833.6 81.1L831.4 80.9L827.1 80.9L822.9 81.4L818.8 82.5L814.8 84.2L811.2 86.3L807.8 88.9L804.7 91.9L803.3 93.6L801.0 97.2L799.1 101.0L797.7 105.0L797.2 107.1L796.7 111.3ZM674.0 79.2L670.7 80.1L666.2 82.1L663.4 84.0L659.8 87.4L657.7 90.1L656.0 93.0L654.3 97.7L653.6 101.0L653.4 104.3L653.6 107.6L654.8 112.6L656.0 115.6L666.7 136.3L653.5 126.4L649.0 123.6L645.7 122.3L642.2 121.3L636.9 120.8L633.3 121.0L629.8 121.7L624.8 123.6L621.8 125.4L618.9 127.6L616.4 130.1L614.2 133.0L611.7 137.6L610.5 141.1L609.8 144.6L609.6 148.1L610.1 153.4L611.0 156.9L612.4 160.2L614.2 163.3L616.4 166.1L618.9 168.6L621.7 170.8L626.4 173.3L652.9 182.6L626.4 191.8L621.7 194.3L617.6 197.7L614.2 201.8L612.4 204.9L611.1 208.2L610.1 211.7L609.7 215.2L609.7 218.8L610.1 222.3L611.0 225.8L612.4 229.1L614.2 232.2L616.4 235.0L620.3 238.6L623.3 240.7L628.1 242.8L631.6 243.8L635.1 244.2L638.7 244.2L642.2 243.8L645.7 242.9L649.0 241.5L653.5 238.7L666.7 228.8L655.3 251.0L654.3 254.2L653.6 257.4L653.5 262.5L653.9 265.8L654.8 269.1L656.1 272.1L657.7 275.0L659.8 277.7L662.1 280.1L666.2 283.0L669.2 284.4L672.4 285.5L675.7 286.2L680.7 286.3L684.0 285.9L687.2 285.0L690.3 283.7L693.2 282.1L695.9 280.0L698.2 277.7L700.3 275.0L702.6 270.6L703.7 267.4L709.7 246.8L712.9 265.8L713.8 268.6L715.1 271.2L717.7 274.9L719.9 277.0L723.4 279.5L726.1 280.9L728.9 281.8L731.9 282.4L736.3 282.6L739.2 282.2L742.1 281.4L744.9 280.2L747.4 278.8L749.8 277.0L752.8 273.7L754.4 271.3L755.8 268.6L757.1 264.4L757.4 261.4L757.5 258.4L752.7 182.6L757.5 106.7L757.3 102.2L756.3 97.9L754.4 93.8L751.9 90.2L748.6 87.2L746.1 85.5L743.5 84.2L739.3 82.9L734.8 82.5L730.4 82.9L726.1 84.2L722.2 86.3L718.8 89.1L715.9 92.6L714.4 95.2L713.3 97.9L712.5 100.7L709.7 118.3L703.2 96.0L701.2 91.5L698.2 87.4L695.9 85.1L693.2 83.0L690.3 81.4L687.3 80.1L684.0 79.2L680.7 78.8L677.3 78.8Z" fill="#64a5d7" opacity="0.45"/>
<path d="M636.9 121.5L633.4 121.7L628.3 122.9L625.1 124.2L620.7 127.0L618.1 129.3L614.8 133.3L613.0 136.3L611.7 139.5L610.8 142.9L610.3 148.1L610.5 151.6L611.2 155.0L613.0 159.9L614.8 162.9L616.9 165.6L619.4 168.1L623.6 171.1L626.7 172.7L655.0 182.6L709.0 182.6L668.7 138.7L653.1 127.0L650.2 125.1L647.1 123.5L643.8 122.4L640.4 121.7Z" fill="url(#fp3)" stroke="#5f94d6" stroke-width="0.6" stroke-opacity="0.4"/>
<path d="M636.9 121.5L633.4 121.7L628.3 122.9L625.1 124.2L620.7 127.0L618.1 129.3L614.8 133.3L613.0 136.3L611.7 139.5L610.8 142.9L610.3 148.1L610.5 151.6L611.2 155.0L613.0 159.9L614.8 162.9L616.9 165.6L619.4 168.1L623.6 171.1L626.7 172.7L655.0 182.6L709.0 182.6L668.7 138.7L653.1 127.0L650.2 125.1L647.1 123.5L643.8 122.4L640.4 121.7Z" fill="url(#hp3)"/>
<path d="M655.0 182.6L628.3 191.8L623.6 194.0L620.7 195.9L618.1 198.2L614.8 202.2L613.0 205.2L611.2 210.1L610.4 215.3L610.5 220.5L611.7 225.6L613.9 230.3L616.9 234.5L620.7 238.1L625.1 240.9L628.3 242.2L631.7 243.1L635.2 243.5L638.6 243.5L642.1 243.1L645.5 242.2L648.7 240.9L651.7 239.1L668.7 226.4L709.0 182.6Z" fill="url(#fp2)" stroke="#5f94d6" stroke-width="0.6" stroke-opacity="0.4"/>
<path d="M655.0 182.6L628.3 191.8L623.6 194.0L620.7 195.9L618.1 198.2L614.8 202.2L613.0 205.2L611.2 210.1L610.4 215.3L610.5 220.5L611.7 225.6L613.9 230.3L616.9 234.5L620.7 238.1L625.1 240.9L628.3 242.2L631.7 243.1L635.2 243.5L638.6 243.5L642.1 243.1L645.5 242.2L648.7 240.9L651.7 239.1L668.7 226.4L709.0 182.6Z" fill="url(#hp2)"/>
<path d="M679.0 79.4L674.1 79.9L671.0 80.7L668.0 82.0L665.2 83.6L662.6 85.6L659.2 89.1L656.7 93.3L655.4 96.3L654.6 99.4L654.2 102.7L654.2 105.9L654.9 110.7L656.7 115.3L668.7 138.7L709.0 182.6L709.9 121.5L703.1 97.9L701.3 93.3L699.7 90.5L697.7 87.9L694.2 84.5L691.5 82.7L687.0 80.7L683.9 79.9Z" fill="url(#fp0)" stroke="#5f94d6" stroke-width="0.6" stroke-opacity="0.4"/>
<path d="M679.0 79.4L674.1 79.9L671.0 80.7L668.0 82.0L665.2 83.6L662.6 85.6L659.2 89.1L656.7 93.3L655.4 96.3L654.6 99.4L654.2 102.7L654.2 105.9L654.9 110.7L656.7 115.3L668.7 138.7L709.0 182.6L709.9 121.5L703.1 97.9L701.3 93.3L699.7 90.5L697.7 87.9L694.2 84.5L691.5 82.7L687.0 80.7L683.9 79.9Z" fill="url(#hp0)"/>
<path d="M709.0 182.6L668.7 226.4L656.0 251.3L654.6 255.9L654.1 260.8L654.6 265.7L656.0 270.3L658.3 274.6L661.4 278.4L665.2 281.5L669.5 283.8L674.1 285.2L679.0 285.7L683.9 285.2L688.5 283.8L692.8 281.5L696.6 278.4L699.7 274.6L702.0 270.3L703.1 267.2L709.9 243.6Z" fill="url(#fp1)" stroke="#5f94d6" stroke-width="0.6" stroke-opacity="0.4"/>
<path d="M709.0 182.6L668.7 226.4L656.0 251.3L654.6 255.9L654.1 260.8L654.6 265.7L656.0 270.3L658.3 274.6L661.4 278.4L665.2 281.5L669.5 283.8L674.1 285.2L679.0 285.7L683.9 285.2L688.5 283.8L692.8 281.5L696.6 278.4L699.7 274.6L702.0 270.3L703.1 267.2L709.9 243.6Z" fill="url(#hp1)"/>
<path d="M734.8 83.2L731.9 83.4L727.7 84.4L723.8 86.1L721.4 87.7L719.2 89.6L716.5 93.0L714.5 96.8L713.5 99.5L709.9 121.5L709.0 182.6L752.0 182.6L756.8 106.6L756.8 103.8L756.4 100.9L755.1 96.8L753.9 94.2L751.3 90.7L748.2 87.7L745.8 86.1L741.9 84.4L737.7 83.4Z" fill="url(#fp1)" stroke="#5f94d6" stroke-width="0.6" stroke-opacity="0.4"/>
<path d="M734.8 83.2L731.9 83.4L727.7 84.4L723.8 86.1L721.4 87.7L719.2 89.6L716.5 93.0L714.5 96.8L713.5 99.5L709.9 121.5L709.0 182.6L752.0 182.6L756.8 106.6L756.8 103.8L756.4 100.9L755.1 96.8L753.9 94.2L751.3 90.7L748.2 87.7L745.8 86.1L741.9 84.4L737.7 83.4Z" fill="url(#hp1)"/>
<path d="M709.0 182.6L709.9 243.6L713.2 264.2L714.0 267.0L715.7 270.9L718.3 274.4L721.4 277.4L725.1 279.6L729.1 281.2L733.4 281.9L737.7 281.7L741.9 280.7L744.5 279.6L747.0 278.2L749.3 276.4L751.3 274.4L753.9 270.9L755.1 268.3L756.1 265.6L756.6 262.8L756.8 258.5L752.0 182.6Z" fill="url(#fp0)" stroke="#5f94d6" stroke-width="0.6" stroke-opacity="0.4"/>
<path d="M709.0 182.6L709.9 243.6L713.2 264.2L714.0 267.0L715.7 270.9L718.3 274.4L721.4 277.4L725.1 279.6L729.1 281.2L733.4 281.9L737.7 281.7L741.9 280.7L744.5 279.6L747.0 278.2L749.3 276.4L751.3 274.4L753.9 270.9L755.1 268.3L756.1 265.6L756.6 262.8L756.8 258.5L752.0 182.6Z" fill="url(#hp0)"/>
<path d="M780.5 108.5L778.1 108.7L776.5 109.2L774.2 110.2L772.3 111.6L770.6 113.4L769.7 114.8L768.7 117.0L768.2 118.6L764.8 136.8L764.5 140.0L767.1 162.2L767.9 165.5L768.8 167.5L778.0 182.6L815.6 182.6L794.0 118.0L789.9 112.8L787.4 110.6L784.5 109.2L782.9 108.7Z" fill="url(#fp4)" stroke="#5f94d6" stroke-width="0.6" stroke-opacity="0.4"/>
<path d="M780.5 108.5L778.1 108.7L776.5 109.2L774.2 110.2L772.3 111.6L770.6 113.4L769.7 114.8L768.7 117.0L768.2 118.6L764.8 136.8L764.5 140.0L767.1 162.2L767.9 165.5L768.8 167.5L778.0 182.6L815.6 182.6L794.0 118.0L789.9 112.8L787.4 110.6L784.5 109.2L782.9 108.7Z" fill="url(#hp4)"/>
<path d="M778.0 182.6L769.3 196.6L767.9 199.6L767.1 202.9L764.6 222.9L764.5 226.2L768.2 246.5L769.0 248.9L769.7 250.4L771.1 252.3L772.3 253.5L775.0 255.3L778.1 256.4L781.3 256.6L784.5 255.9L786.0 255.3L788.1 254.0L789.9 252.3L794.0 247.1L815.6 182.6Z" fill="url(#fp5)" stroke="#5f94d6" stroke-width="0.6" stroke-opacity="0.4"/>
<path d="M778.0 182.6L769.3 196.6L767.9 199.6L767.1 202.9L764.6 222.9L764.5 226.2L768.2 246.5L769.0 248.9L769.7 250.4L771.1 252.3L772.3 253.5L775.0 255.3L778.1 256.4L781.3 256.6L784.5 255.9L786.0 255.3L788.1 254.0L789.9 252.3L794.0 247.1L815.6 182.6Z" fill="url(#hp5)"/>
<path d="M829.3 81.5L825.1 81.8L823.1 82.1L819.0 83.2L815.1 84.8L813.3 85.8L809.8 88.1L808.2 89.4L806.7 90.9L803.9 94.0L802.7 95.7L800.6 99.3L799.7 101.3L798.4 105.2L797.6 109.3L796.6 125.0L801.0 150.0L815.6 182.6L855.9 131.3L858.0 127.7L858.9 125.7L860.2 121.8L861.0 117.7L861.3 113.5L861.2 111.4L860.7 107.3L860.2 105.2L858.9 101.3L858.0 99.3L855.9 95.7L853.4 92.4L850.4 89.4L848.8 88.1L845.3 85.8L841.5 83.9L837.6 82.6L835.5 82.1L831.4 81.6Z" fill="url(#fp1)" stroke="#5f94d6" stroke-width="0.6" stroke-opacity="0.4"/>
<path d="M829.3 81.5L825.1 81.8L823.1 82.1L819.0 83.2L815.1 84.8L813.3 85.8L809.8 88.1L808.2 89.4L806.7 90.9L803.9 94.0L802.7 95.7L800.6 99.3L799.7 101.3L798.4 105.2L797.6 109.3L796.6 125.0L801.0 150.0L815.6 182.6L855.9 131.3L858.0 127.7L858.9 125.7L860.2 121.8L861.0 117.7L861.3 113.5L861.2 111.4L860.7 107.3L860.2 105.2L858.9 101.3L858.0 99.3L855.9 95.7L853.4 92.4L850.4 89.4L848.8 88.1L845.3 85.8L841.5 83.9L837.6 82.6L835.5 82.1L831.4 81.6Z" fill="url(#hp1)"/>
<path d="M815.6 182.6L801.0 215.1L796.6 240.1L797.4 253.7L797.9 257.8L798.4 259.9L799.7 263.8L800.6 265.8L802.7 269.4L803.9 271.1L806.7 274.2L809.8 277.0L811.5 278.2L815.1 280.3L817.1 281.2L819.0 281.9L823.1 283.0L825.1 283.3L829.3 283.6L833.5 283.3L835.5 283.0L839.6 281.9L841.5 281.2L845.3 279.3L847.1 278.2L850.4 275.7L851.9 274.2L853.4 272.7L855.9 269.4L858.0 265.8L858.9 263.8L860.2 259.9L860.7 257.8L861.0 255.8L861.3 251.6L861.0 247.4L860.7 245.4L859.6 241.3L858.0 237.4L855.9 233.8L854.7 232.1Z" fill="url(#fp0)" stroke="#5f94d6" stroke-width="0.6" stroke-opacity="0.4"/>
<path d="M815.6 182.6L801.0 215.1L796.6 240.1L797.4 253.7L797.9 257.8L798.4 259.9L799.7 263.8L800.6 265.8L802.7 269.4L803.9 271.1L806.7 274.2L809.8 277.0L811.5 278.2L815.1 280.3L817.1 281.2L819.0 281.9L823.1 283.0L825.1 283.3L829.3 283.6L833.5 283.3L835.5 283.0L839.6 281.9L841.5 281.2L845.3 279.3L847.1 278.2L850.4 275.7L851.9 274.2L853.4 272.7L855.9 269.4L858.0 265.8L858.9 263.8L860.2 259.9L860.7 257.8L861.0 255.8L861.3 251.6L861.0 247.4L860.7 245.4L859.6 241.3L858.0 237.4L855.9 233.8L854.7 232.1Z" fill="url(#hp0)"/>
<path d="M887.4 119.8L883.8 120.0L880.3 120.7L875.2 122.6L848.7 138.7L815.6 182.6L885.0 182.6L902.7 170.2L905.5 168.0L908.1 165.4L911.2 161.1L912.8 157.8L914.0 154.4L914.7 150.9L914.8 145.5L914.0 140.2L912.8 136.8L911.2 133.6L908.1 129.2L905.5 126.6L902.7 124.4L899.6 122.6L896.2 121.3L891.0 120.0Z" fill="url(#fp2)" stroke="#5f94d6" stroke-width="0.6" stroke-opacity="0.4"/>
<path d="M887.4 119.8L883.8 120.0L880.3 120.7L875.2 122.6L848.7 138.7L815.6 182.6L885.0 182.6L902.7 170.2L905.5 168.0L908.1 165.4L911.2 161.1L912.8 157.8L914.0 154.4L914.7 150.9L914.8 145.5L914.0 140.2L912.8 136.8L911.2 133.6L908.1 129.2L905.5 126.6L902.7 124.4L899.6 122.6L896.2 121.3L891.0 120.0Z" fill="url(#hp2)"/>
<path d="M815.6 182.6L848.7 226.4L875.2 242.5L880.3 244.4L885.6 245.2L891.0 245.1L896.2 243.8L901.1 241.6L905.5 238.5L909.2 234.5L912.1 230.0L914.0 224.9L914.7 221.4L914.9 217.8L914.7 214.2L914.0 210.7L912.8 207.3L911.2 204.1L908.1 199.7L904.1 196.0L885.0 182.6Z" fill="url(#fp3)" stroke="#5f94d6" stroke-width="0.6" stroke-opacity="0.4"/>
<path d="M815.6 182.6L848.7 226.4L875.2 242.5L880.3 244.4L885.6 245.2L891.0 245.1L896.2 243.8L901.1 241.6L905.5 238.5L909.2 234.5L912.1 230.0L914.0 224.9L914.7 221.4L914.9 217.8L914.7 214.2L914.0 210.7L912.8 207.3L911.2 204.1L908.1 199.7L904.1 196.0L885.0 182.6Z" fill="url(#hp3)"/>
<path d="M709.0 182.6L655.0 182.6M709.0 182.6L668.7 138.7M709.0 182.6L709.9 121.5M709.0 182.6L752.0 182.6M815.6 182.6L776.0 182.6M815.6 182.6L794.0 118.0M815.6 182.6L848.7 138.7M815.6 182.6L885.0 182.6M709.0 182.6L655.0 182.6M709.0 182.6L668.7 226.4M709.0 182.6L709.9 243.6M709.0 182.6L752.0 182.6M815.6 182.6L776.0 182.6M815.6 182.6L794.0 247.1M815.6 182.6L848.7 226.4M815.6 182.6L885.0 182.6" stroke="#6aa8e0" stroke-width="1.5" stroke-dasharray="2.2 1.8" stroke-opacity="0.6" fill="none"/>
<circle cx="708.9" cy="182.55" r="10.8" fill="#5f94d6" opacity="0.6"/>
<circle cx="708.9" cy="182.55" r="9.5" fill="#2a2d78"/>
<circle cx="815.6" cy="182.55" r="10.8" fill="#5f94d6" opacity="0.6"/>
<circle cx="815.6" cy="182.55" r="9.5" fill="#2a2d78"/>
</g></g>
<text x="164.2" y="53.7" font-family="'Liberation Sans', sans-serif" font-size="48.0" fill="#000" stroke="#000" stroke-width="0.4" textLength="29.2" lengthAdjust="spacingAndGlyphs">A</text>
<text x="606.8" y="53.4" font-family="'Liberation Sans', sans-serif" font-size="43.8" fill="#000" stroke="#000" stroke-width="0.4" textLength="29.4" lengthAdjust="spacingAndGlyphs">B</text>
<text font-family="'Liberation Serif', serif" font-size="29" fill="#000" stroke="#000" stroke-width="0.45" y="401.7"><tspan x="276.4" font-style="italic">d</tspan> <tspan x="301.9" dy="2.6" font-size="34.2">=</tspan> <tspan x="330.5" dy="-2.6">4</tspan><tspan x="345.8" font-style="italic">R</tspan></text>
<text font-family="'Liberation Serif', serif" font-size="29" fill="#000" stroke="#000" stroke-width="0.45" y="401.7"><tspan x="693.3" font-style="italic">d</tspan> <tspan x="719.0" dy="2.6" font-size="34.2">=</tspan> <tspan x="748.5" dy="-2.6">1</tspan><tspan x="763.1">2</tspan><tspan x="778.5" font-style="italic">R</tspan></text>
<g id="chart">
<path d="M238.30 1003.9v-8.3M238.30 433.6v8.3M340.30 1003.9v-16M340.30 433.6v16M442.30 1003.9v-8.3M442.30 433.6v8.3M544.30 1003.9v-16M544.30 433.6v16M646.30 1003.9v-8.3M646.30 433.6v8.3M748.30 1003.9v-16M748.30 433.6v16M850.30 1003.9v-8.3M850.30 433.6v8.3M136.3 946.87h8.3M952.3 946.87h-8.3M136.3 889.84h16M952.3 889.84h-16M136.3 832.81h8.3M952.3 832.81h-8.3M136.3 775.78h16M952.3 775.78h-16M136.3 718.75h8.3M952.3 718.75h-8.3M136.3 661.72h16M952.3 661.72h-16M136.3 604.69h8.3M952.3 604.69h-8.3M136.3 547.66h6.3M952.3 547.66h-16M136.3 490.63h6.3M952.3 490.63h-8.3" stroke="#231f20" stroke-width="1.3" fill="none"/>
<rect x="143.5" y="468" width="163" height="82" fill="#fff"/>
<clipPath id="clipC"><rect x="136.3" y="433.6" width="816.0" height="570.3"/></clipPath>
<g clip-path="url(#clipC)" fill="none" stroke-linejoin="round" stroke-linecap="round">
<path d="M136.3 821.7L136.7 821.8L137.1 821.8L137.5 821.8L137.9 821.8L138.3 821.8L138.7 821.8L139.1 821.8L139.5 821.8L139.9 821.8L140.3 821.8L140.7 821.8L141.1 821.8L141.5 821.8L141.9 821.8L142.3 821.9L142.7 821.9L143.1 821.9L143.5 821.9L143.9 821.9L144.3 821.9L144.7 821.9L145.1 821.9L145.5 821.9L145.9 821.9L146.3 821.9L146.7 821.9L147.1 822.0L147.5 822.0L147.9 822.0L148.3 822.0L148.7 822.0L149.1 822.0L149.5 822.0L149.9 822.0L150.3 822.0L150.7 822.0L151.0 822.0L151.4 822.0L151.8 822.1L152.2 822.1L152.6 822.1L153.0 822.1L153.4 822.1L153.8 822.1L154.2 822.1L154.6 822.1L155.0 822.1L155.4 822.1L155.8 822.2L156.2 822.2L156.6 822.2L157.0 822.2L157.4 822.2L157.8 822.2L158.2 822.2L158.6 822.2L159.0 822.2L159.4 822.2L159.8 822.3L160.2 822.3L160.6 822.3L161.0 822.3L161.4 822.3L161.8 822.3L162.2 822.3L162.6 822.3L163.0 822.3L163.4 822.3L163.8 822.4L164.2 822.4L164.6 822.4L165.0 822.4L165.4 822.4L165.8 822.4L166.2 822.4L166.6 822.4L167.0 822.4L167.4 822.5L167.8 822.5L168.2 822.5L168.6 822.5L169.0 822.5L169.4 822.5L169.8 822.5L170.2 822.5L170.6 822.5L171.0 822.6L171.4 822.6L171.8 822.6L172.2 822.6L172.6 822.6L173.0 822.6L173.4 822.6L173.8 822.6L174.2 822.7L174.6 822.7L175.0 822.7L175.4 822.7L175.8 822.7L176.2 822.7L176.6 822.7L177.0 822.7L177.4 822.7L177.8 822.8L178.2 822.8L178.6 822.8L179.0 822.8L179.4 822.8L179.8 822.8L180.2 822.8L180.5 822.8L180.9 822.9L181.3 822.9L181.7 822.9L182.1 822.9L182.5 822.9L182.9 822.9L183.3 822.9L183.7 822.9L184.1 823.0L184.5 823.0L184.9 823.0L185.3 823.0L185.7 823.0L186.1 823.0L186.5 823.0L186.9 823.1L187.3 823.1L187.7 823.1L188.1 823.1L188.5 823.1L188.9 823.1L189.3 823.1L189.7 823.2L190.1 823.2L190.5 823.2L190.9 823.2L191.3 823.2L191.7 823.2L192.1 823.2L192.5 823.3L192.9 823.3L193.3 823.3L193.7 823.3L194.1 823.3L194.5 823.3L194.9 823.4L195.3 823.4L195.7 823.4L196.1 823.4L196.5 823.4L196.9 823.4L197.3 823.4L197.7 823.5L198.1 823.5L198.5 823.5L198.9 823.5L199.3 823.5L199.7 823.5L200.1 823.6L200.5 823.6L200.9 823.6L201.3 823.6L201.7 823.6L202.1 823.6L202.5 823.7L202.9 823.7L203.3 823.7L203.7 823.7L204.1 823.7L204.5 823.7L204.9 823.8L205.3 823.8L205.7 823.8L206.1 823.8L206.5 823.8L206.9 823.9L207.3 823.9L207.7 823.9L208.1 823.9L208.5 823.9L208.9 823.9L209.2 824.0L209.6 824.0L210.0 824.0L210.4 824.0L210.8 824.0L211.2 824.0L211.6 824.1L212.0 824.1L212.4 824.1L212.8 824.1L213.2 824.1L213.6 824.2L214.0 824.2L214.4 824.2L214.8 824.2L215.2 824.2L215.6 824.2L216.0 824.3L216.4 824.3L216.8 824.3L217.2 824.3L217.6 824.3L218.0 824.4L218.4 824.4L218.8 824.4L219.2 824.4L219.6 824.4L220.0 824.5L220.4 824.5L220.8 824.5L221.2 824.5L221.6 824.5L222.0 824.5L222.4 824.6L222.8 824.6L223.2 824.6L223.6 824.6L224.0 824.6L224.4 824.7L224.8 824.7L225.2 824.7L225.6 824.7L226.0 824.7L226.4 824.8L226.8 824.8L227.2 824.8L227.6 824.8L228.0 824.8L228.4 824.9L228.8 824.9L229.2 824.9L229.6 824.9L230.0 824.9L230.4 825.0L230.8 825.0L231.2 825.0L231.6 825.0L232.0 825.0L232.4 825.1L232.8 825.1L233.2 825.1L233.6 825.1L234.0 825.1L234.4 825.2L234.8 825.2L235.2 825.2L235.6 825.2L236.0 825.2L236.4 825.3L236.8 825.3L237.2 825.3L237.6 825.3L238.0 825.3L238.3 825.4L238.7 825.4L239.1 825.4L239.5 825.4L239.9 825.4L240.3 825.4L240.7 825.5L241.1 825.5L241.5 825.5L241.9 825.5L242.3 825.5L242.7 825.6L243.1 825.6L243.5 825.6L243.9 825.6L244.3 825.7L244.7 825.7L245.1 825.7L245.5 825.7L245.9 825.7L246.3 825.8L246.7 825.8L247.1 825.8L247.5 825.8L247.9 825.8L248.3 825.9L248.7 825.9L249.1 825.9L249.5 825.9L249.9 825.9L250.3 826.0L250.7 826.0L251.1 826.0L251.5 826.0L251.9 826.1L252.3 826.1L252.7 826.1L253.1 826.1L253.5 826.1L253.9 826.2L254.3 826.2L254.7 826.2L255.1 826.2L255.5 826.3L255.9 826.3L256.3 826.3L256.7 826.3L257.1 826.4L257.5 826.4L257.9 826.4L258.3 826.4L258.7 826.5L259.1 826.5L259.5 826.5L259.9 826.5L260.3 826.6L260.7 826.6L261.1 826.6L261.5 826.6L261.9 826.7L262.3 826.7L262.7 826.7L263.1 826.8L263.5 826.8L263.9 826.8L264.3 826.8L264.7 826.9L265.1 826.9L265.5 826.9L265.9 827.0L266.3 827.0L266.7 827.0L267.1 827.0L267.4 827.1L267.8 827.1L268.2 827.1L268.6 827.2L269.0 827.2L269.4 827.2L269.8 827.3L270.2 827.3L270.6 827.3L271.0 827.4L271.4 827.4L271.8 827.4L272.2 827.5L272.6 827.5L273.0 827.5L273.4 827.6L273.8 827.6L274.2 827.7L274.6 827.7L275.0 827.7L275.4 827.8L275.8 827.8L276.2 827.9L276.6 827.9L277.0 828.0L277.4 828.0L277.8 828.1L278.2 828.1L278.6 828.2L279.0 828.2L279.4 828.3L279.8 828.3L280.2 828.4L280.6 828.4L281.0 828.5L281.4 828.5L281.8 828.6L282.2 828.6L282.6 828.7L283.0 828.8L283.4 828.8L283.8 828.9L284.2 828.9L284.6 829.0L285.0 829.0L285.4 829.1L285.8 829.2L286.2 829.2L286.6 829.3L287.0 829.4L287.4 829.4L287.8 829.5L288.2 829.5L288.6 829.6L289.0 829.7L289.4 829.7L289.8 829.8L290.2 829.9L290.6 829.9L291.0 830.0L291.4 830.1L291.8 830.1L292.2 830.2L292.6 830.2L293.0 830.3L293.4 830.4L293.8 830.4L294.2 830.5L294.6 830.6L295.0 830.6L295.4 830.7L295.8 830.8L296.2 830.8L296.6 830.9L296.9 831.0L297.3 831.0L297.7 831.1L298.1 831.2L298.5 831.2L298.9 831.3L299.3 831.3L299.7 831.4L300.1 831.5L300.5 831.5L300.9 831.6L301.3 831.7L301.7 831.7L302.1 831.8L302.5 831.8L302.9 831.9L303.3 832.0L303.7 832.0L304.1 832.1L304.5 832.1L304.9 832.2L305.3 832.2L305.7 832.3L306.1 832.4L306.5 832.4L306.9 832.5L307.3 832.5L307.7 832.6L308.1 832.6L308.5 832.7L308.9 832.7L309.3 832.8L309.7 832.8L310.1 832.9L310.5 832.9L310.9 833.0L311.3 833.0L311.7 833.1L312.1 833.1L312.5 833.2L312.9 833.2L313.3 833.2L313.7 833.3L314.1 833.3L314.5 833.4L314.9 833.4L315.3 833.5L315.7 833.5L316.1 833.6L316.5 833.6L316.9 833.7L317.3 833.7L317.7 833.8L318.1 833.8L318.5 833.9L318.9 833.9L319.3 834.0L319.7 834.0L320.1 834.1L320.5 834.1L320.9 834.1L321.3 834.2L321.7 834.2L322.1 834.3L322.5 834.3L322.9 834.4L323.3 834.4L323.7 834.4L324.1 834.5L324.5 834.5L324.9 834.5L325.3 834.6L325.6 834.6L326.0 834.6L326.4 834.7L326.8 834.7L327.2 834.7L327.6 834.7L328.0 834.7L328.4 834.8L328.8 834.8L329.2 834.8L329.6 834.8L330.0 834.8L330.4 834.8L330.8 834.8L331.2 834.8L331.6 834.7L332.0 834.7L332.4 834.7L332.8 834.6L333.2 834.6L333.6 834.6L334.0 834.5L334.4 834.5L334.8 834.5L335.2 834.5L335.6 834.3L336.0 834.2L336.4 833.9L336.8 833.7L337.2 833.5L337.6 833.4L338.0 833.4L338.4 833.6L338.8 834.2L339.2 834.9L339.6 835.4L340.0 835.7L340.4 835.4L340.8 834.7L341.2 833.7L341.6 832.3L342.0 830.8L342.4 829.3L342.8 828.0L343.2 826.9L343.6 826.2L344.0 826.0L344.4 826.1L344.8 826.4L345.2 826.9L345.6 827.7L346.0 828.6L346.4 829.7L346.8 830.9L347.2 832.2L347.6 833.6L348.0 835.0L348.4 836.4L348.8 837.8L349.2 839.1L349.6 840.4L350.0 841.5L350.4 842.4L350.8 843.2L351.2 843.7L351.6 844.1L352.0 844.2L352.4 844.1L352.8 843.6L353.2 842.8L353.6 841.7L354.0 840.4L354.4 839.0L354.8 837.6L355.1 836.3L355.5 835.0L355.9 834.0L356.3 833.3L356.7 832.9L357.0 832.8L357.1 832.8L357.5 832.4L357.9 831.7L358.3 830.7L358.7 829.3L359.1 827.7L359.5 825.9L359.9 824.0L360.3 822.1L360.7 820.3L361.1 818.6L361.5 817.1L361.9 816.0L362.3 815.1L362.7 814.7L363.0 814.6L363.5 815.5L363.9 817.2L364.3 819.6L364.7 822.2L365.1 824.6L365.5 826.3L366.0 827.1L366.3 827.0L366.7 826.7L367.1 826.3L367.5 825.7L367.9 825.1L368.3 824.6L368.7 824.3L369.0 824.3L369.5 824.9L369.9 826.4L370.3 828.6L370.7 831.5L371.1 835.0L371.5 838.9L371.9 843.1L372.3 847.5L372.7 851.8L373.1 855.9L373.5 859.6L373.9 862.9L374.3 865.5L374.7 867.4L375.1 868.5L375.4 868.7L375.9 867.2L376.3 863.7L376.7 858.7L377.1 852.7L377.5 846.6L377.9 840.8L378.3 836.3L378.7 833.6L379.0 832.8L379.5 834.5L379.9 838.3L380.3 843.6L380.7 849.5L381.1 855.0L381.5 859.1L381.9 861.2L382.0 861.3L382.3 860.9L382.7 858.7L383.1 855.1L383.5 850.5L383.9 845.8L384.2 841.9L384.6 839.3L385.0 838.5L385.4 840.6L385.8 845.8L386.2 853.1L386.6 861.4L387.0 869.2L387.4 875.1L387.8 878.1L388.0 878.4L388.2 877.8L388.6 874.1L389.0 868.0L389.4 861.0L389.8 854.7L390.2 850.7L390.5 849.9L391.0 856.4L391.4 867.5L391.8 879.6L392.2 888.0L392.5 889.8L393.0 882.7L393.4 870.7L393.8 859.0L394.3 852.8L394.6 858.2L395.0 875.7L395.4 893.0L395.8 900.6L396.1 901.2L396.6 897.5L397.0 883.5L397.4 863.2L397.9 849.9L398.2 856.4L398.6 878.6L399.0 899.1L399.4 906.6L399.6 906.9L399.8 906.9L400.2 904.2L400.6 893.7L401.0 871.5L401.4 835.8L401.8 787.2L402.2 729.5L402.6 668.8L403.0 612.0L403.4 566.7L403.8 538.8L404.1 531.7L404.6 628.7L405.0 782.3L405.4 886.5L405.9 910.7L406.2 902.5L406.6 828.1L407.0 677.5L407.4 542.7L407.6 517.4L407.8 531.6L408.2 656.2L408.6 811.9L409.0 893.0L409.3 902.8L409.8 888.0L410.2 822.7L410.6 727.9L411.0 674.8L411.4 718.8L411.8 825.6L412.2 900.1L413.0 909.8L413.3 884.5L413.7 846.1L414.1 828.7L414.5 849.6L414.9 887.5L415.3 910.0L416.1 909.1L416.5 892.4L416.9 871.0L417.2 863.9L417.7 880.3L418.1 903.2L418.5 914.7L419.3 899.7L419.7 846.7L420.1 788.4L420.4 775.3L420.5 780.3L420.9 831.9L421.3 893.2L421.7 918.7L422.1 918.1L422.5 863.1L422.9 715.0L423.3 578.0L423.5 559.1L423.7 579.0L424.1 697.6L424.5 835.6L424.9 906.2L425.2 914.7L425.7 891.0L426.1 781.7L426.5 615.7L427.0 503.7L427.3 546.1L427.7 694.1L428.1 842.5L428.5 910.0L428.8 916.5L429.3 893.7L429.7 802.8L430.1 669.0L430.6 577.3L430.9 619.1L431.3 763.8L431.7 882.9L432.5 909.3L432.9 874.7L433.3 812.5L433.7 774.6L434.1 799.4L434.5 860.4L434.9 903.3L435.7 908.9L436.1 893.2L436.5 869.3L436.9 858.3L437.3 870.5L437.7 893.0L438.1 906.4L438.9 900.6L439.3 867.1L439.7 823.5L440.0 808.9L440.5 842.6L440.9 890.0L441.3 913.9L442.1 881.8L442.4 766.9L442.8 639.6L443.1 610.4L443.2 617.1L443.6 692.8L444.0 806.4L444.4 890.9L444.8 919.5L445.1 920.7L445.2 919.5L445.6 883.6L446.0 772.8L446.4 619.0L446.8 511.8L447.0 500.3L447.2 526.3L447.6 663.2L448.0 820.3L448.4 904.0L448.8 915.9L449.2 900.6L449.6 818.3L450.0 680.4L450.4 573.9L450.6 560.8L450.8 587.0L451.2 728.2L451.6 867.0L452.0 912.7L452.4 911.4L452.8 878.3L453.2 806.8L453.7 749.3L454.0 769.0L454.4 838.4L454.8 896.6L455.6 910.2L456.0 897.6L456.4 874.8L456.9 860.6L457.2 868.1L457.6 886.9L458.0 900.3L458.8 896.6L459.2 857.6L459.6 797.6L460.0 769.4L460.4 802.2L460.8 863.5L461.2 900.5L462.0 884.2L462.4 787.2L462.8 660.2L463.1 616.7L463.6 692.8L464.0 814.1L464.4 896.5L464.9 916.0L465.2 907.5L465.6 829.5L466.0 669.8L466.4 526.7L466.6 499.2L466.8 518.3L467.2 681.9L467.6 856.4L468.0 914.6L468.1 915.7L468.4 909.8L468.8 831.9L469.2 675.1L469.6 576.2L470.0 618.4L470.4 735.6L470.8 851.5L471.2 909.8L471.9 913.2L472.3 886.1L472.7 837.0L473.1 791.7L473.9 808.4L474.3 857.0L474.7 895.4L475.1 909.6L475.4 910.4L475.5 910.3L475.9 906.4L476.3 893.2L476.7 874.3L477.1 860.8L477.3 859.3L477.5 861.9L477.9 875.9L478.3 893.4L478.7 904.4L479.2 907.2L479.5 906.6L479.9 900.8L480.3 887.0L480.7 871.4L481.1 863.6L481.5 885.0L482.0 918.4L482.3 925.9L482.8 941.2L483.1 942.9L483.5 948.1L484.0 952.0L484.3 952.0L484.7 952.0L485.1 952.0L485.5 952.0L485.9 952.0L486.3 952.0L486.7 952.0L487.1 952.0L487.5 952.0L487.9 952.0L488.3 952.0L488.7 952.0L489.1 952.0L489.5 952.0L489.9 952.0L490.3 952.0L490.7 952.0L491.1 952.0L491.5 952.0L491.9 952.0L492.3 952.0L492.7 952.0L493.1 952.0L493.5 952.0L493.9 952.0L494.3 952.0L494.7 952.0L495.1 952.0L495.5 952.0L495.9 952.0L496.3 952.0L496.7 952.0L497.1 952.0L497.5 952.0L497.9 952.0L498.3 952.0L498.7 952.0L499.1 952.0L499.5 952.0L499.9 952.0L500.3 952.0L500.6 952.0L501.0 952.0L501.4 952.0L501.8 952.0L502.2 952.0L502.6 952.0L503.0 952.0L503.4 952.0L503.8 952.0L504.2 952.0L504.6 952.0L505.0 952.0L505.4 952.0L505.8 952.0L506.2 952.0L506.6 952.0L507.0 952.0L507.4 952.0L507.8 952.0L508.2 952.0L508.6 952.0L509.0 952.0L509.4 952.0L509.8 952.0L510.2 952.0L510.6 952.0L511.0 952.0L511.4 952.0L511.8 952.0L512.2 952.0L512.6 952.0L513.0 952.0L513.4 952.0L513.8 952.0L514.2 952.0L514.6 952.0L515.0 952.0L515.4 952.0L515.8 952.0L516.2 952.0L516.6 952.0L517.0 952.0L517.4 952.0L517.8 952.0L518.2 952.0L518.6 952.0L519.0 952.0L519.4 952.0L519.8 952.0L520.2 952.0L520.6 952.0L521.0 952.0L521.4 952.0L521.8 952.0L522.2 952.0L522.6 952.0L523.0 952.0L523.4 952.0L523.8 952.0L524.2 952.0L524.6 952.0L524.8 952.0L525.0 951.5L525.4 947.1L525.8 942.2L526.0 941.2L526.2 932.5L526.6 889.8L527.0 834.5L527.4 758.7L527.8 779.7L528.2 835.4L528.6 885.7L529.0 905.7L529.2 906.9L529.4 906.4L529.8 878.4L530.1 785.3L530.5 662.4L531.0 593.3L531.3 624.3L531.7 719.9L532.1 830.9L532.5 908.0L532.9 935.9L533.2 937.7L533.3 937.6L533.7 929.6L534.1 899.3L534.5 850.0L534.9 804.1L535.3 787.2L535.7 803.0L536.1 838.4L536.5 876.6L536.9 902.5L537.3 912.0L537.6 912.7L538.1 904.8L538.5 871.6L538.9 806.0L539.3 719.0L539.7 636.6L540.1 587.3L540.3 581.3L540.5 593.0L540.9 668.6L541.3 776.2L541.7 864.9L542.1 906.5L542.5 912.7L542.9 908.8L543.3 886.3L543.7 846.7L544.1 814.7L544.3 810.0L544.5 812.3L544.9 828.8L545.3 852.8L545.7 872.9L546.1 882.6L546.5 884.1L546.9 882.6L547.3 871.6L547.7 846.3L548.1 811.1L548.5 777.7L549.0 758.7L549.3 770.4L549.7 813.0L550.1 850.2L550.6 861.3L550.9 859.6L551.3 839.9L551.7 805.9L552.0 792.9L552.5 807.4L552.9 833.4L553.3 855.9L553.7 865.9L554.0 867.0L554.5 862.1L554.9 841.3L555.3 814.3L555.6 804.3L556.1 819.8L556.5 846.7L556.9 866.7L557.3 872.6L557.4 872.7L557.7 872.1L558.1 862.3L558.5 840.8L558.9 823.1L559.0 821.4L559.2 831.4L559.6 870.9L560.0 889.8L560.4 926.1L560.7 941.2L560.8 941.5L561.2 945.8L561.6 950.8L561.9 952.0L562.0 952.0L562.4 952.0L562.8 952.0L563.2 952.0L563.6 952.0L564.0 952.0L564.4 952.0L564.8 952.0L565.2 952.0L565.6 952.0L566.0 952.0L566.4 952.0L566.8 952.0L567.2 952.0L567.6 952.0L568.0 952.0L568.4 952.0L568.8 952.0L569.2 952.0L569.6 952.0L570.0 952.0L570.4 952.0L570.8 952.0L571.2 952.0L571.6 952.0L572.0 952.0L572.4 952.0L572.8 952.0L573.2 952.0L573.6 952.0L574.0 952.0L574.4 952.0L574.8 952.0L575.2 952.0L575.6 952.0L576.0 952.0L576.4 952.0L576.8 952.0L577.2 952.0L577.6 952.0L578.0 952.0L578.4 952.0L578.8 952.0L579.2 952.0L579.6 952.0L580.0 952.0L580.4 952.0L580.8 952.0L581.2 952.0L581.6 952.0L582.0 952.0L582.4 952.0L582.8 952.0L583.2 952.0L583.6 952.0L584.0 952.0L584.4 952.0L584.8 952.0L585.2 952.0L585.6 952.0L586.0 952.0L586.4 952.0L586.8 952.0L587.2 952.0L587.6 952.0L588.0 952.0L588.3 952.0L588.7 952.0L589.1 952.0L589.5 952.0L589.9 952.0L590.3 952.0L590.7 952.0L591.1 952.0L591.5 952.0L591.9 952.0L592.3 952.0L592.7 952.0L593.1 952.0L593.5 952.0L593.9 952.0L594.3 952.0L594.7 952.0L595.1 952.0L595.5 952.0L595.9 952.0L596.3 952.0L596.7 952.0L597.1 952.0L597.5 952.0L597.9 952.0L598.3 952.0L598.7 952.0L599.1 952.0L599.5 952.0L599.9 952.0L600.3 952.0L600.7 952.0L601.1 952.0L601.5 952.0L601.9 952.0L602.3 952.0L602.7 952.0L603.1 952.0L603.4 952.0L603.9 948.0L604.3 942.8L604.6 941.2L605.1 923.0L605.3 918.4L605.5 915.8L605.9 895.1L606.3 861.2L606.7 826.7L607.1 804.9L607.3 801.6L607.5 805.6L607.9 837.0L608.3 878.1L608.7 904.1L609.1 909.9L609.5 906.0L609.9 869.9L610.3 793.0L610.7 715.4L611.0 690.2L611.5 744.7L611.9 833.7L612.3 895.4L612.8 910.3L613.1 903.6L613.5 838.1L613.9 702.4L614.3 578.3L614.5 553.4L614.7 565.9L615.1 684.7L615.5 832.2L615.9 904.1L616.1 910.9L616.7 881.3L617.0 772.8L617.4 635.1L617.8 581.9L618.2 672.3L618.6 822.5L619.0 911.4L619.4 923.7L619.8 914.0L620.2 868.8L620.6 806.3L621.0 780.4L621.4 815.4L621.8 876.3L622.2 913.4L622.6 918.8L623.0 915.6L623.4 899.7L623.8 877.1L624.2 867.3L624.6 880.1L625.0 903.6L625.4 918.3L625.8 920.6L626.2 913.9L626.6 879.2L627.0 829.1L627.4 805.9L627.8 831.5L628.2 880.4L628.6 911.7L629.0 916.9L629.4 899.6L629.8 805.0L630.2 664.4L630.6 596.1L631.0 665.9L631.4 805.8L631.8 897.8L632.2 914.0L632.6 893.6L633.0 776.0L633.4 596.4L633.8 504.9L634.2 572.2L634.6 725.0L635.0 854.5L635.4 901.3L635.8 902.4L636.2 869.5L636.6 771.7L637.0 650.0L637.4 590.4L637.8 656.4L638.2 801.0L638.6 898.0L639.4 907.2L639.8 862.7L640.2 796.3L640.5 766.0L641.0 802.8L641.4 870.6L641.8 912.0L642.1 917.8L642.6 913.3L643.0 892.3L643.4 863.8L643.7 853.1L644.2 871.8L644.6 901.2L645.0 917.4L645.8 906.3L646.2 855.3L646.5 792.7L646.9 773.5L647.3 819.1L647.7 880.1L648.1 910.4L648.4 913.0L648.9 878.1L649.3 761.1L649.7 630.9L650.0 599.0L650.1 606.5L650.5 699.0L650.9 828.3L651.3 906.5L651.8 920.7L652.1 906.7L652.5 813.8L652.9 647.9L653.3 517.1L653.5 501.5L653.7 526.7L654.1 665.6L654.5 823.4L654.9 901.9L655.2 910.9L655.7 889.2L656.1 794.3L656.5 652.4L657.0 560.8L657.3 609.7L657.7 759.5L658.1 877.8L658.6 906.5L658.9 902.1L659.3 866.0L659.7 802.2L660.1 763.2L660.5 787.7L660.9 849.2L661.3 893.5L662.1 900.1L662.5 885.0L662.9 860.9L663.3 848.4L663.7 860.8L664.1 886.9L664.5 903.9L664.9 906.7L665.3 901.6L665.7 874.2L666.1 834.6L666.5 817.4L666.9 841.0L667.3 882.5L667.7 907.1L668.5 893.1L668.9 816.1L669.3 715.0L669.6 678.8L670.1 730.2L670.5 820.3L670.9 892.9L671.3 919.8L671.5 921.3L671.7 920.5L672.1 888.4L672.5 782.6L672.9 634.1L673.3 533.9L673.4 525.4L673.7 562.4L674.1 721.4L674.5 869.1L674.9 917.3L675.0 918.3L675.3 913.4L675.6 841.0L676.0 678.9L676.4 545.0L676.6 531.7L676.8 561.2L677.2 701.4L677.6 847.4L678.0 910.6L678.3 915.0L678.4 914.6L678.8 895.2L679.2 830.6L679.6 750.9L680.0 718.8L680.4 763.8L680.8 844.0L681.2 894.8L681.6 903.5L682.0 900.6L682.4 884.6L682.8 859.8L683.2 846.3L683.6 856.4L684.0 879.7L684.4 896.8L684.9 900.7L685.2 899.7L685.6 892.2L686.0 878.7L686.5 869.3L686.8 875.1L687.2 893.5L687.6 909.0L688.1 913.5L688.4 911.4L688.8 886.7L689.2 835.0L689.6 793.6L689.8 789.7L690.0 800.9L690.4 851.1L690.8 899.5L691.2 916.9L691.4 917.4L691.6 915.3L692.0 872.5L692.4 766.3L692.8 667.0L693.0 650.3L693.2 662.2L693.6 748.9L694.0 855.2L694.4 912.7L694.8 920.8L695.2 901.0L695.6 799.6L696.0 636.9L696.5 517.7L696.8 562.0L697.2 728.5L697.6 876.6L698.1 921.9L698.4 917.0L698.8 854.3L699.2 722.0L699.6 619.1L699.7 611.0L700.0 616.3L700.4 642.9L700.8 687.5L701.2 742.2L701.6 797.6L702.0 845.9L702.4 881.4L702.8 902.2L703.2 910.8L703.6 912.2L704.0 909.2L704.4 885.3L704.7 838.7L705.1 796.5L705.4 787.4L705.5 789.8L705.9 816.8L706.3 854.6L706.7 878.5L707.5 882.1L707.9 869.7L708.3 844.5L708.7 821.2L709.1 817.0L709.5 832.0L709.9 853.7L710.3 867.8L711.1 870.0L711.5 861.4L711.9 843.6L712.3 826.7L713.1 833.7L713.5 849.3L713.9 859.6L714.7 861.5L715.1 855.4L715.5 842.5L715.9 830.0L716.7 834.6L717.1 846.1L717.5 854.0L718.3 855.6L718.7 852.0L719.1 844.3L719.5 836.5L720.3 838.7L720.7 845.3L721.1 849.9L721.9 851.0L722.3 848.8L722.7 843.8L723.1 838.7L723.9 839.7L724.3 843.6L724.7 846.5L725.5 847.2L725.9 845.9L726.3 843.0L726.7 840.0L727.5 840.8L727.9 843.8L728.3 846.1L728.7 846.7L729.1 846.4L729.5 845.2L729.9 843.4L730.3 841.4L730.7 840.1L731.0 839.7L731.5 839.9L731.9 840.6L732.3 841.4L732.7 842.2L733.1 842.8L733.5 843.1L733.9 842.7L734.2 841.6L734.6 839.8L735.0 838.0L735.4 836.5L735.8 835.7L736.0 835.7L736.2 835.8L736.6 836.3L737.0 837.1L737.4 838.1L737.8 839.0L738.2 839.5L738.5 839.7L738.6 839.6L739.0 839.5L739.4 839.3L739.8 839.0L740.2 838.7L740.6 838.3L741.0 838.0L741.4 837.8L741.8 837.7L742.0 837.7L742.2 837.7L742.6 837.7L743.0 837.7L743.4 837.7L743.8 837.6L744.2 837.6L744.6 837.6L745.0 837.6L745.4 837.6L745.8 837.6L746.2 837.6L746.6 837.6L747.0 837.6L747.4 837.6L747.8 837.6L748.2 837.6L748.6 837.5L749.0 837.5L749.4 837.5L749.8 837.5L750.2 837.5L750.6 837.5L751.0 837.4L751.4 837.4L751.8 837.4L752.2 837.4L752.6 837.4L753.0 837.4L753.4 837.3L753.8 837.3L754.2 837.3L754.6 837.3L755.0 837.3L755.4 837.2L755.8 837.2L756.2 837.2L756.6 837.2L757.0 837.1L757.4 837.1L757.8 837.1L758.2 837.1L758.6 837.0L759.0 837.0L759.4 837.0L759.8 837.0L760.2 836.9L760.6 836.9L761.0 836.9L761.4 836.9L761.8 836.8L762.2 836.8L762.6 836.8L763.0 836.8L763.3 836.7L763.7 836.7L764.1 836.7L764.5 836.7L764.9 836.6L765.3 836.6L765.7 836.6L766.1 836.6L766.5 836.5L766.9 836.5L767.3 836.5L767.7 836.5L768.1 836.4L768.5 836.4L768.9 836.4L769.3 836.4L769.7 836.3L770.1 836.3L770.5 836.3L770.9 836.2L771.3 836.2L771.7 836.2L772.1 836.1L772.5 836.1L772.9 836.1L773.3 836.0L773.7 836.0L774.1 836.0L774.5 835.9L774.9 835.9L775.3 835.9L775.7 835.8L776.1 835.8L776.5 835.7L776.9 835.7L777.3 835.7L777.7 835.6L778.1 835.6L778.5 835.5L778.9 835.5L779.3 835.4L779.7 835.4L780.1 835.4L780.5 835.3L780.9 835.3L781.3 835.2L781.7 835.2L782.1 835.1L782.5 835.1L782.9 835.0L783.3 835.0L783.7 835.0L784.1 834.9L784.5 834.9L784.9 834.8L785.3 834.8L785.7 834.7L786.1 834.7L786.5 834.6L786.9 834.6L787.3 834.5L787.7 834.5L788.1 834.4L788.5 834.4L788.9 834.3L789.3 834.3L789.7 834.2L790.1 834.2L790.5 834.1L790.9 834.1L791.3 834.0L791.7 834.0L792.0 833.9L792.4 833.9L792.8 833.8L793.2 833.8L793.6 833.7L794.0 833.7L794.4 833.6L794.8 833.5L795.2 833.5L795.6 833.4L796.0 833.4L796.4 833.3L796.8 833.3L797.2 833.2L797.6 833.2L798.0 833.1L798.4 833.1L798.8 833.0L799.2 833.0L799.6 832.9L800.0 832.9L800.4 832.8L800.8 832.8L801.2 832.7L801.6 832.7L802.0 832.6L802.4 832.6L802.8 832.5L803.2 832.5L803.6 832.4L804.0 832.4L804.4 832.3L804.8 832.3L805.2 832.2L805.6 832.2L806.0 832.1L806.4 832.1L806.8 832.0L807.2 832.0L807.6 831.9L808.0 831.9L808.4 831.8L808.8 831.8L809.2 831.7L809.6 831.7L810.0 831.6L810.4 831.6L810.8 831.6L811.2 831.5L811.6 831.5L812.0 831.4L812.4 831.4L812.8 831.3L813.2 831.3L813.6 831.2L814.0 831.2L814.4 831.2L814.8 831.1L815.2 831.1L815.6 831.0L816.0 831.0L816.4 831.0L816.8 830.9L817.2 830.9L817.6 830.9L818.0 830.8L818.4 830.8L818.8 830.7L819.2 830.7L819.6 830.7L820.0 830.6L820.4 830.6L820.8 830.6L821.1 830.5L821.5 830.5L821.9 830.5L822.3 830.4L822.7 830.4L823.1 830.4L823.5 830.3L823.9 830.3L824.3 830.3L824.7 830.2L825.1 830.2L825.5 830.2L825.9 830.1L826.3 830.1L826.7 830.1L827.1 830.0L827.5 830.0L827.9 830.0L828.3 829.9L828.7 829.9L829.1 829.9L829.5 829.8L829.9 829.8L830.3 829.8L830.7 829.7L831.1 829.7L831.5 829.7L831.9 829.6L832.3 829.6L832.7 829.6L833.1 829.5L833.5 829.5L833.9 829.5L834.3 829.4L834.7 829.4L835.1 829.4L835.5 829.3L835.9 829.3L836.3 829.3L836.7 829.2L837.1 829.2L837.5 829.2L837.9 829.2L838.3 829.1L838.7 829.1L839.1 829.1L839.5 829.0L839.9 829.0L840.3 829.0L840.7 828.9L841.1 828.9L841.5 828.9L841.9 828.9L842.3 828.8L842.7 828.8L843.1 828.8L843.5 828.7L843.9 828.7L844.3 828.7L844.7 828.6L845.1 828.6L845.5 828.6L845.9 828.6L846.3 828.5L846.7 828.5L847.1 828.5L847.5 828.4L847.9 828.4L848.3 828.4L848.7 828.4L849.1 828.3L849.5 828.3L849.9 828.3L850.2 828.2L850.6 828.2L851.0 828.2L851.4 828.2L851.8 828.1L852.2 828.1L852.6 828.1L853.0 828.0L853.4 828.0L853.8 828.0L854.2 828.0L854.6 827.9L855.0 827.9L855.4 827.9L855.8 827.8L856.2 827.8L856.6 827.8L857.0 827.8L857.4 827.7L857.8 827.7L858.2 827.7L858.6 827.6L859.0 827.6L859.4 827.6L859.8 827.6L860.2 827.5L860.6 827.5L861.0 827.5L861.4 827.4L861.8 827.4L862.2 827.4L862.6 827.4L863.0 827.3L863.4 827.3L863.8 827.3L864.2 827.2L864.6 827.2L865.0 827.2L865.4 827.2L865.8 827.1L866.2 827.1L866.6 827.1L867.0 827.0L867.4 827.0L867.8 827.0L868.2 827.0L868.6 826.9L869.0 826.9L869.4 826.9L869.8 826.8L870.2 826.8L870.6 826.8L871.0 826.8L871.4 826.7L871.8 826.7L872.2 826.7L872.6 826.6L873.0 826.6L873.4 826.6L873.8 826.5L874.2 826.5L874.6 826.5L875.0 826.5L875.4 826.4L875.8 826.4L876.2 826.4L876.6 826.3L877.0 826.3L877.4 826.3L877.8 826.3L878.2 826.2L878.6 826.2L879.0 826.2L879.4 826.1L879.7 826.1L880.1 826.1L880.5 826.1L880.9 826.0L881.3 826.0L881.7 826.0L882.1 825.9L882.5 825.9L882.9 825.9L883.3 825.9L883.7 825.8L884.1 825.8L884.5 825.8L884.9 825.7L885.3 825.7L885.7 825.7L886.1 825.7L886.5 825.6L886.9 825.6L887.3 825.6L887.7 825.5L888.1 825.5L888.5 825.5L888.9 825.5L889.3 825.4L889.7 825.4L890.1 825.4L890.5 825.3L890.9 825.3L891.3 825.3L891.7 825.3L892.1 825.2L892.5 825.2L892.9 825.2L893.3 825.1L893.7 825.1L894.1 825.1L894.5 825.1L894.9 825.0L895.3 825.0L895.7 825.0L896.1 824.9L896.5 824.9L896.9 824.9L897.3 824.9L897.7 824.8L898.1 824.8L898.5 824.8L898.9 824.8L899.3 824.7L899.7 824.7L900.1 824.7L900.5 824.6L900.9 824.6L901.3 824.6L901.7 824.6L902.1 824.5L902.5 824.5L902.9 824.5L903.3 824.5L903.7 824.4L904.1 824.4L904.5 824.4L904.9 824.3L905.3 824.3L905.7 824.3L906.1 824.3L906.5 824.2L906.9 824.2L907.3 824.2L907.7 824.2L908.1 824.1L908.5 824.1L908.8 824.1L909.2 824.1L909.6 824.0L910.0 824.0L910.4 824.0L910.8 824.0L911.2 823.9L911.6 823.9L912.0 823.9L912.4 823.9L912.8 823.8L913.2 823.8L913.6 823.8L914.0 823.8L914.4 823.7L914.8 823.7L915.2 823.7L915.6 823.7L916.0 823.6L916.4 823.6L916.8 823.6L917.2 823.6L917.6 823.5L918.0 823.5L918.4 823.5L918.8 823.5L919.2 823.4L919.6 823.4L920.0 823.4L920.4 823.4L920.8 823.4L921.2 823.3L921.6 823.3L922.0 823.3L922.4 823.3L922.8 823.2L923.2 823.2L923.6 823.2L924.0 823.2L924.4 823.1L924.8 823.1L925.2 823.1L925.6 823.1L926.0 823.1L926.4 823.0L926.8 823.0L927.2 823.0L927.6 823.0L928.0 823.0L928.4 822.9L928.8 822.9L929.2 822.9L929.6 822.9L930.0 822.8L930.4 822.8L930.8 822.8L931.2 822.8L931.6 822.8L932.0 822.7L932.4 822.7L932.8 822.7L933.2 822.7L933.6 822.7L934.0 822.6L934.4 822.6L934.8 822.6L935.2 822.6L935.6 822.5L936.0 822.5L936.4 822.5L936.8 822.5L937.2 822.5L937.6 822.4L937.9 822.4L938.3 822.4L938.7 822.4L939.1 822.4L939.5 822.3L939.9 822.3L940.3 822.3L940.7 822.3L941.1 822.3L941.5 822.2L941.9 822.2L942.3 822.2L942.7 822.2L943.1 822.2L943.5 822.2L943.9 822.1L944.3 822.1L944.7 822.1L945.1 822.1L945.5 822.1L945.9 822.0L946.3 822.0L946.7 822.0L947.1 822.0L947.5 822.0L947.9 821.9L948.3 821.9L948.7 821.9L949.1 821.9L949.5 821.9L949.9 821.9L950.3 821.8L950.7 821.8L951.1 821.8L951.5 821.8L951.9 821.8L952.3 821.7" stroke="#82be46" stroke-width="1.25"/>
<path d="M136.3 823.3L136.7 823.4L137.1 823.4L137.5 823.4L137.9 823.4L138.3 823.4L138.7 823.5L139.1 823.5L139.5 823.5L139.9 823.5L140.3 823.5L140.7 823.5L141.1 823.6L141.5 823.6L141.9 823.6L142.3 823.6L142.7 823.7L143.1 823.7L143.5 823.7L143.9 823.7L144.3 823.7L144.7 823.8L145.1 823.8L145.5 823.8L145.9 823.8L146.3 823.8L146.7 823.9L147.1 823.9L147.5 823.9L147.9 823.9L148.3 824.0L148.7 824.0L149.1 824.0L149.5 824.0L149.9 824.1L150.3 824.1L150.7 824.1L151.0 824.1L151.4 824.2L151.8 824.2L152.2 824.2L152.6 824.2L153.0 824.3L153.4 824.3L153.8 824.3L154.2 824.3L154.6 824.4L155.0 824.4L155.4 824.4L155.8 824.4L156.2 824.5L156.6 824.5L157.0 824.5L157.4 824.5L157.8 824.6L158.2 824.6L158.6 824.6L159.0 824.6L159.4 824.7L159.8 824.7L160.2 824.7L160.6 824.8L161.0 824.8L161.4 824.8L161.8 824.8L162.2 824.9L162.6 824.9L163.0 824.9L163.4 825.0L163.8 825.0L164.2 825.0L164.6 825.0L165.0 825.1L165.4 825.1L165.8 825.1L166.2 825.2L166.6 825.2L167.0 825.2L167.4 825.3L167.8 825.3L168.2 825.3L168.6 825.4L169.0 825.4L169.4 825.4L169.8 825.4L170.2 825.5L170.6 825.5L171.0 825.5L171.4 825.6L171.8 825.6L172.2 825.7L172.6 825.7L173.0 825.7L173.4 825.8L173.8 825.8L174.2 825.8L174.6 825.9L175.0 825.9L175.4 825.9L175.8 826.0L176.2 826.0L176.6 826.0L177.0 826.1L177.4 826.1L177.8 826.2L178.2 826.2L178.6 826.2L179.0 826.3L179.4 826.3L179.8 826.3L180.2 826.4L180.5 826.4L180.9 826.5L181.3 826.5L181.7 826.5L182.1 826.6L182.5 826.6L182.9 826.7L183.3 826.7L183.7 826.8L184.1 826.8L184.5 826.9L184.9 826.9L185.3 826.9L185.7 827.0L186.1 827.0L186.5 827.1L186.9 827.1L187.3 827.2L187.7 827.2L188.1 827.3L188.5 827.3L188.9 827.4L189.3 827.4L189.7 827.5L190.1 827.5L190.5 827.6L190.9 827.6L191.3 827.7L191.7 827.7L192.1 827.8L192.5 827.8L192.9 827.9L193.3 827.9L193.7 828.0L194.1 828.0L194.5 828.1L194.9 828.2L195.3 828.2L195.7 828.3L196.1 828.3L196.5 828.4L196.9 828.4L197.3 828.5L197.7 828.5L198.1 828.6L198.5 828.6L198.9 828.7L199.3 828.7L199.7 828.8L200.1 828.8L200.5 828.9L200.9 828.9L201.3 829.0L201.7 829.0L202.1 829.1L202.5 829.1L202.9 829.2L203.3 829.2L203.7 829.3L204.1 829.3L204.5 829.4L204.9 829.5L205.3 829.5L205.7 829.6L206.1 829.6L206.5 829.7L206.9 829.7L207.3 829.8L207.7 829.8L208.1 829.9L208.5 829.9L208.9 830.0L209.2 830.0L209.6 830.1L210.0 830.2L210.4 830.2L210.8 830.3L211.2 830.3L211.6 830.4L212.0 830.4L212.4 830.5L212.8 830.5L213.2 830.6L213.6 830.6L214.0 830.7L214.4 830.8L214.8 830.8L215.2 830.9L215.6 830.9L216.0 831.0L216.4 831.0L216.8 831.1L217.2 831.1L217.6 831.2L218.0 831.3L218.4 831.3L218.8 831.4L219.2 831.4L219.6 831.5L220.0 831.5L220.4 831.6L220.8 831.6L221.2 831.7L221.6 831.8L222.0 831.8L222.4 831.9L222.8 831.9L223.2 832.0L223.6 832.1L224.0 832.1L224.4 832.2L224.8 832.3L225.2 832.4L225.6 832.4L226.0 832.5L226.4 832.6L226.8 832.7L227.2 832.7L227.6 832.8L228.0 832.9L228.4 833.0L228.8 833.0L229.2 833.1L229.6 833.2L230.0 833.3L230.4 833.3L230.8 833.4L231.2 833.5L231.6 833.6L232.0 833.6L232.4 833.7L232.8 833.8L233.2 833.9L233.6 833.9L234.0 834.0L234.4 834.1L234.8 834.1L235.2 834.2L235.6 834.2L236.0 834.3L236.4 834.4L236.8 834.4L237.2 834.5L237.6 834.5L238.0 834.6L238.3 834.6L238.7 834.6L239.1 834.7L239.5 834.7L239.9 834.7L240.3 834.8L240.7 834.8L241.1 834.8L241.5 834.8L241.9 834.8L242.3 834.9L242.7 834.9L243.0 834.9L243.1 834.9L243.5 834.8L243.9 834.7L244.3 834.6L244.7 834.5L245.1 834.4L245.5 834.3L246.0 834.2L246.3 834.3L246.7 834.6L247.1 835.1L247.5 835.5L248.0 835.7L248.3 835.6L248.7 835.4L249.1 835.1L249.5 834.7L249.9 834.4L250.3 834.3L250.5 834.2L250.7 834.3L251.1 834.6L251.5 835.1L251.9 835.8L252.3 836.3L252.7 836.7L253.0 836.8L253.5 836.4L253.9 835.6L254.3 834.6L254.7 833.4L255.1 832.3L255.5 831.5L256.0 831.1L256.3 831.3L256.7 831.8L257.1 832.5L257.5 832.8L257.9 832.0L258.3 830.1L258.7 828.2L259.0 827.7L259.5 828.1L259.9 829.0L260.3 830.0L260.8 830.5L261.1 830.4L261.5 829.8L261.9 828.9L262.3 828.4L262.5 828.2L262.7 828.3L263.1 829.3L263.5 830.9L263.9 832.6L264.3 833.8L264.5 834.0L264.7 833.9L265.1 833.4L265.5 832.7L265.9 832.3L266.0 832.2L266.3 832.5L266.7 833.6L267.1 835.3L267.4 836.9L267.8 837.9L268.0 837.9L268.2 837.8L268.6 837.0L269.0 836.1L269.5 835.7L269.8 836.2L270.2 837.9L270.6 840.2L271.0 842.1L271.5 843.1L271.8 842.7L272.2 841.4L272.6 840.1L273.0 839.7L273.4 840.5L273.8 842.3L274.2 843.9L274.5 844.2L275.0 842.0L275.4 838.8L275.8 836.5L276.0 836.2L276.2 836.4L276.6 837.5L277.0 838.9L277.5 839.7L277.8 838.7L278.2 835.3L278.6 830.6L279.0 826.4L279.5 824.3L279.8 825.1L280.2 827.8L280.6 830.2L280.8 830.5L281.0 829.9L281.4 825.1L281.8 818.2L282.2 812.6L282.5 811.1L283.0 815.0L283.4 820.5L283.8 823.1L284.2 820.4L284.6 814.2L285.0 809.1L285.2 808.3L285.4 809.0L285.8 814.7L286.2 823.0L286.6 829.0L286.8 830.0L287.0 829.5L287.4 825.9L287.8 820.4L288.2 815.9L288.5 814.6L289.0 820.3L289.4 831.5L289.8 843.0L290.3 849.9L290.6 848.9L291.0 844.2L291.4 838.0L291.8 833.6L292.0 832.8L292.2 833.5L292.6 840.7L293.0 852.9L293.4 865.7L293.8 874.1L294.0 875.6L294.2 875.2L294.6 870.6L295.0 863.1L295.4 856.1L295.8 852.8L296.2 855.9L296.6 866.0L296.9 879.1L297.3 890.4L297.8 895.5L298.1 892.0L298.5 881.0L298.9 867.4L299.3 857.6L299.6 855.6L299.7 856.4L300.1 866.1L300.5 882.9L300.9 899.0L301.4 906.9L301.7 895.6L302.1 855.4L302.5 797.7L302.9 739.1L303.3 696.5L303.7 682.3L304.1 721.5L304.5 804.0L304.9 878.1L305.3 911.8L305.6 915.5L306.1 897.5L306.5 813.6L306.9 671.2L307.3 545.7L307.6 513.4L308.1 621.8L308.5 778.9L308.9 885.3L309.4 911.6L309.7 904.8L310.1 834.3L310.5 680.9L310.9 528.1L311.2 484.9L311.7 596.5L312.1 765.2L312.5 881.9L313.0 912.4L313.3 907.2L313.7 849.2L314.1 718.7L314.5 586.0L314.8 545.9L315.3 622.3L315.7 750.0L316.1 854.6L316.5 895.9L316.8 898.8L317.3 888.6L317.7 851.1L318.1 794.0L318.5 748.9L318.7 741.0L318.9 745.7L319.3 786.0L319.7 842.8L320.1 883.3L320.5 896.0L320.6 896.4L320.9 896.4L321.3 894.7L321.7 889.8L322.1 883.3L322.5 879.1L322.6 878.7L322.9 880.6L323.3 889.0L323.7 899.1L324.1 905.3L324.6 906.8L324.9 905.2L325.3 887.8L325.6 847.2L326.0 800.0L326.5 775.2L326.8 790.7L327.2 835.6L327.6 881.4L328.0 905.8L328.4 909.8L328.8 901.8L329.2 848.8L329.6 744.9L330.0 640.5L330.4 601.3L330.8 665.6L331.2 790.1L331.6 887.7L332.0 918.9L332.2 919.8L332.4 917.1L332.8 864.4L333.2 725.1L333.6 564.3L334.0 498.0L334.4 583.8L334.8 754.3L335.2 884.1L335.6 921.8L335.8 922.4L336.0 917.5L336.4 851.1L336.8 694.6L337.2 536.4L337.5 493.5L338.0 608.8L338.4 776.8L338.8 891.4L339.3 920.1L339.6 914.7L340.0 857.0L340.4 730.2L340.8 604.0L341.1 567.6L341.6 647.0L342.0 775.2L342.4 878.7L342.8 918.5L343.1 921.2L343.2 921.1L343.6 912.4L344.0 881.5L344.4 834.8L344.8 798.7L345.0 792.8L345.2 796.7L345.6 827.8L346.0 870.7L346.4 900.6L346.8 909.9L346.9 910.1L347.2 910.0L347.6 907.5L348.0 900.6L348.4 891.6L348.9 885.3L349.2 887.6L349.6 897.4L350.0 908.8L350.4 915.7L350.9 917.3L351.2 915.6L351.6 898.3L352.0 858.5L352.4 813.1L352.8 790.0L353.2 805.2L353.6 847.6L354.0 890.1L354.4 912.3L354.8 915.8L355.1 905.7L355.5 842.3L355.9 720.9L356.3 600.1L356.7 556.8L357.1 621.9L357.5 747.6L357.9 853.3L358.3 895.2L358.6 898.1L358.7 897.6L359.1 867.9L359.5 760.7L359.9 603.7L360.3 491.2L360.5 478.7L360.7 504.6L361.1 644.0L361.5 804.9L361.9 891.2L362.3 903.7L362.7 886.1L363.1 790.7L363.5 629.9L363.9 504.7L364.1 488.9L364.3 510.8L364.7 640.3L365.1 799.0L365.5 892.2L366.3 902.9L366.7 847.4L367.1 737.4L367.5 632.9L367.8 604.7L368.3 672.3L368.7 780.2L369.1 868.0L369.5 903.6L370.3 900.6L370.7 877.4L371.1 840.6L371.5 809.3L372.3 829.8L372.7 871.6L373.1 904.7L373.5 917.5L373.8 918.4L373.9 918.3L374.3 913.2L374.7 894.2L375.1 864.8L375.5 840.8L375.9 837.3L376.3 855.9L376.7 884.0L377.1 905.6L377.5 913.6L377.9 913.8L378.3 900.4L378.7 853.9L379.1 784.1L379.5 728.9L379.7 718.8L379.9 724.7L380.3 780.3L380.7 854.8L381.1 900.3L381.5 909.4L381.9 899.2L382.3 821.9L382.7 672.2L383.1 538.5L383.3 510.6L383.5 519.8L383.9 619.3L384.2 765.9L384.6 874.3L385.0 910.5L385.2 912.0L385.4 910.6L385.8 873.0L386.2 758.5L386.6 600.7L387.0 491.9L387.2 480.9L387.4 509.1L387.8 652.7L388.2 816.0L388.6 901.6L389.0 913.5L389.4 897.5L389.8 813.9L390.2 674.8L390.6 569.2L390.8 556.8L391.0 573.5L391.4 669.9L391.8 796.2L392.2 886.2L392.6 916.3L393.0 917.2L393.4 904.3L393.8 863.1L394.2 802.5L394.6 754.1L395.0 747.3L395.4 785.4L395.8 844.3L396.2 891.3L396.6 910.4L396.9 912.0L397.4 910.0L397.8 901.6L398.2 887.6L398.6 874.8L399.4 871.9L399.8 874.8L400.2 879.0L400.6 884.2L401.0 889.9L401.4 895.5L401.8 900.4L402.2 904.1L402.6 906.4L402.9 906.9L403.4 933.7L403.6 941.2L403.8 941.8L404.2 946.3L404.6 951.1L404.8 952.0L405.0 952.0L405.4 952.0L405.8 952.0L406.2 952.0L406.6 952.0L407.0 952.0L407.4 952.0L407.8 952.0L408.2 952.0L408.6 952.0L409.0 952.0L409.4 952.0L409.8 952.0L410.2 952.0L410.6 952.0L411.0 952.0L411.4 952.0L411.8 952.0L412.2 952.0L412.6 952.0L413.0 952.0L413.3 952.0L413.7 952.0L414.1 952.0L414.5 952.0L414.9 952.0L415.3 952.0L415.7 952.0L416.1 952.0L416.5 952.0L416.9 952.0L417.3 952.0L417.7 952.0L418.1 952.0L418.5 952.0L418.9 952.0L419.3 952.0L419.7 952.0L420.1 952.0L420.5 952.0L420.9 952.0L421.3 952.0L421.7 952.0L422.1 952.0L422.5 952.0L422.9 952.0L423.3 952.0L423.7 952.0L424.1 952.0L424.5 952.0L424.9 952.0L425.3 952.0L425.7 952.0L426.1 952.0L426.5 952.0L426.9 952.0L427.3 952.0L427.7 952.0L428.1 952.0L428.5 952.0L428.9 952.0L429.3 952.0L429.7 952.0L430.1 952.0L430.5 952.0L430.9 952.0L431.3 952.0L431.7 952.0L432.1 952.0L432.5 952.0L432.9 952.0L433.3 952.0L433.7 952.0L434.1 952.0L434.5 952.0L434.9 952.0L435.3 952.0L435.7 952.0L436.1 952.0L436.5 952.0L436.9 952.0L437.3 952.0L437.7 952.0L438.1 952.0L438.5 952.0L438.9 952.0L439.3 952.0L439.7 952.0L440.1 952.0L440.5 952.0L440.9 952.0L441.3 952.0L441.7 952.0L442.1 952.0L442.4 952.0L442.8 952.0L443.2 952.0L443.6 952.0L444.0 952.0L444.4 952.0L444.8 952.0L445.2 952.0L445.6 952.0L445.8 952.0L446.0 951.0L446.4 946.1L446.8 941.7L447.0 941.2L447.2 933.7L447.6 918.4L448.0 846.4L448.4 732.5L448.7 701.6L449.2 761.3L449.6 838.8L450.0 883.1L450.4 889.8L450.8 882.0L451.2 839.4L451.6 766.7L452.0 710.1L452.2 702.8L452.4 707.1L452.8 735.9L453.2 784.1L453.6 838.7L454.0 886.6L454.4 918.7L454.8 933.5L455.3 936.6L455.6 935.3L456.0 919.9L456.4 878.9L456.8 816.3L457.2 751.5L457.6 710.2L457.8 704.5L458.0 712.6L458.4 770.0L458.8 845.3L459.2 894.4L459.7 906.9L460.0 902.8L460.4 853.3L460.8 736.3L461.2 604.0L461.6 542.0L462.0 600.6L462.4 744.3L462.8 878.1L463.2 938.7L463.5 945.2L464.0 943.8L464.4 937.2L464.8 923.5L465.2 905.3L465.6 888.4L466.0 879.1L466.1 878.4L466.4 880.6L466.8 890.9L467.2 905.8L467.6 919.8L468.0 929.1L468.4 932.8L468.7 933.2L469.2 917.7L469.6 842.4L470.0 709.0L470.4 582.2L470.7 539.1L471.2 610.8L471.6 744.6L471.9 855.4L472.3 898.5L472.6 901.2L472.7 901.0L473.1 887.1L473.5 840.2L473.9 777.6L474.4 741.6L474.7 748.9L475.1 774.3L475.5 812.6L475.9 855.5L476.3 894.6L476.7 923.9L477.1 940.8L477.5 947.2L477.9 948.0L478.3 939.6L478.7 891.7L479.1 798.6L479.5 697.4L480.0 641.2L480.3 672.5L480.7 771.4L481.1 867.3L481.5 909.1L481.8 912.7L482.3 885.0L482.7 782.3L483.1 636.0L483.6 542.0L483.9 576.0L484.3 696.6L484.7 831.7L485.1 913.6L485.6 933.2L485.9 933.0L486.3 930.4L486.7 923.1L487.1 910.9L487.5 895.9L487.9 882.2L488.3 873.9L488.5 872.7L488.7 874.2L489.1 885.8L489.5 905.4L489.9 926.5L490.3 943.2L490.7 952.5L491.1 955.3L491.3 955.4L491.5 953.5L491.9 894.8L492.3 733.3L492.7 573.9L492.9 544.2L493.1 557.3L493.5 665.4L493.9 806.6L494.3 891.0L494.7 906.9L495.1 897.4L495.5 831.2L495.9 714.2L496.3 628.1L496.4 621.2L496.7 644.4L497.1 747.3L497.5 865.5L497.9 933.6L498.3 946.9L498.7 946.4L499.1 942.1L499.5 930.3L499.9 909.4L500.3 880.5L500.6 847.1L501.0 815.0L501.4 789.9L501.8 776.9L502.0 775.8L502.2 784.7L502.6 828.7L503.0 878.0L503.4 903.5L503.8 906.9L504.2 889.7L504.6 804.7L505.0 674.8L505.5 595.0L505.8 625.4L506.2 720.7L506.6 823.1L507.0 882.6L507.5 895.5L507.8 895.0L508.2 889.3L508.6 875.4L509.0 856.0L509.4 839.1L509.8 832.8L510.2 838.5L510.6 851.9L511.0 867.1L511.4 878.4L511.8 883.4L512.2 884.1L512.6 882.2L513.0 870.0L513.4 844.7L513.8 814.5L514.2 794.0L514.4 791.2L514.6 793.2L515.0 807.5L515.4 827.4L515.8 843.0L516.2 849.3L516.5 849.9L517.0 848.9L517.4 844.5L517.8 836.0L518.2 825.7L518.6 817.9L518.9 815.7L519.4 821.1L519.8 830.3L520.2 838.2L520.6 841.6L520.9 841.9L521.4 839.2L521.8 834.2L522.2 829.3L522.6 827.1L523.0 828.7L523.4 832.7L523.8 836.2L524.0 836.8L524.2 836.5L524.6 834.3L525.0 831.5L525.3 830.5L525.8 832.0L526.2 834.1L526.4 834.5L526.6 834.3L527.0 832.8L527.4 831.7L527.8 831.9L528.2 832.6L528.5 832.8L529.0 832.8L529.4 832.8L529.8 832.8L530.1 832.8L530.5 832.8L530.9 832.8L531.3 832.8L531.7 832.8L532.1 832.8L532.5 832.8L532.9 832.8L533.3 832.8L533.7 832.8L534.1 832.8L534.5 832.8L534.9 832.8L535.3 832.8L535.7 832.8L536.1 832.8L536.5 832.8L536.9 832.8L537.3 832.8L537.7 832.8L538.1 832.8L538.5 832.8L538.9 832.8L539.3 832.8L539.7 832.8L540.1 832.8L540.5 832.8L540.9 832.8L541.3 832.8L541.7 832.8L542.1 832.8L542.5 832.8L542.9 832.8L543.3 832.8L543.7 832.8L544.1 832.8L544.5 832.8L545.0 832.8L545.3 832.8L545.7 832.8L546.1 832.8L546.5 832.8L546.9 832.8L547.3 832.8L547.7 832.8L548.1 832.8L548.5 832.8L548.9 832.8L549.3 832.8L549.7 832.8L550.1 832.8L550.5 832.8L550.9 832.8L551.3 832.8L551.7 832.8L552.1 832.8L552.5 832.8L552.9 832.8L553.3 832.8L553.7 832.8L554.1 832.8L554.5 832.8L554.9 832.8L555.3 832.8L555.7 832.8L556.1 832.8L556.5 832.8L556.9 832.8L557.3 832.8L557.7 832.8L558.1 832.8L558.5 832.8L558.9 832.8L559.2 832.8L559.6 832.8L560.0 832.8L560.4 832.8L560.8 832.8L561.0 832.8L561.2 832.8L561.6 832.7L562.0 832.6L562.4 832.5L562.8 832.3L563.2 832.3L563.5 832.2L563.6 832.3L564.0 832.6L564.4 833.1L564.8 833.7L565.3 834.0L565.6 833.7L566.0 833.0L566.4 832.1L566.8 831.4L567.2 831.1L567.6 831.2L568.0 831.6L568.4 832.1L568.8 832.8L569.2 833.5L569.6 834.3L570.0 835.1L570.4 835.7L570.8 836.2L571.2 836.5L571.5 836.5L572.0 836.2L572.4 835.4L572.8 834.3L573.2 832.9L573.6 831.4L574.0 830.0L574.4 828.8L574.8 827.8L575.2 827.2L575.5 827.1L576.0 828.5L576.4 831.5L576.8 835.6L577.2 840.1L577.6 844.2L578.0 847.2L578.5 848.8L578.8 847.9L579.2 843.7L579.6 836.7L580.0 827.6L580.4 817.7L580.8 808.1L581.2 800.2L581.6 794.9L582.0 792.9L582.4 795.1L582.8 802.3L583.2 813.3L583.6 826.5L584.0 840.2L584.4 852.6L584.8 862.4L585.2 869.0L585.6 872.5L586.0 873.7L586.3 873.9L586.8 872.4L587.2 865.0L587.6 850.3L588.0 832.7L588.3 819.9L588.6 817.4L588.7 820.2L589.1 846.2L589.5 865.5L589.8 867.0L589.9 866.2L590.3 824.2L590.7 709.1L591.2 624.1L591.5 636.0L591.9 677.9L592.3 740.7L592.7 811.1L593.1 875.4L593.5 923.6L593.9 951.6L594.3 962.1L594.7 963.4L595.1 957.2L595.5 919.3L595.9 833.9L596.3 711.5L596.7 585.1L597.1 497.9L597.4 478.1L597.9 599.5L598.3 779.7L598.7 913.6L599.1 957.4L599.3 958.8L599.5 958.0L599.9 942.5L600.3 917.0L600.5 912.7L600.7 916.3L601.1 933.7L601.6 941.2L601.9 936.5L602.3 888.0L602.7 787.4L603.1 700.3L603.3 686.8L603.5 699.0L603.9 779.3L604.3 865.6L604.7 899.7L604.9 901.2L605.1 899.6L605.5 854.1L605.9 732.9L606.3 616.3L606.5 596.1L606.7 599.5L607.1 628.4L607.5 681.5L607.9 749.2L608.3 819.2L608.7 880.8L609.1 926.2L609.5 952.8L609.9 963.5L610.3 965.1L610.7 960.6L611.1 925.4L611.5 840.6L611.9 716.5L612.3 589.0L612.7 505.3L612.9 490.6L613.1 501.3L613.5 604.9L613.9 761.9L614.3 890.6L614.7 947.2L615.0 953.7L615.5 945.9L615.9 920.1L616.2 906.9L616.7 919.8L617.0 931.6L617.3 932.6L617.4 932.0L617.8 902.0L618.2 815.6L618.6 737.2L618.8 729.0L619.0 743.8L619.4 812.4L619.8 878.3L620.2 900.7L620.4 901.2L620.6 897.8L621.0 840.5L621.4 708.2L621.8 594.8L622.0 581.9L622.2 588.7L622.6 629.5L623.0 698.4L623.4 779.3L623.8 855.6L624.2 913.8L624.6 948.0L625.0 961.2L625.4 962.8L625.8 958.8L626.2 932.9L626.6 871.6L627.0 777.3L627.4 667.4L627.8 570.7L628.2 514.5L628.4 507.7L628.6 532.7L629.0 683.3L629.4 853.7L629.8 933.9L630.1 941.2L630.6 933.7L631.0 910.4L631.5 889.8L631.8 896.0L632.2 912.2L632.7 918.4L633.0 912.3L633.4 855.5L633.8 775.6L634.0 761.0L634.2 765.3L634.6 798.4L635.0 847.6L635.4 889.1L635.8 909.3L636.2 912.7L636.6 909.9L637.0 890.1L637.4 847.4L637.8 794.9L638.2 757.4L638.4 751.3L638.6 763.4L639.0 850.8L639.4 912.7L639.8 928.3L640.1 941.2L640.6 944.8L641.0 950.1L641.3 952.0L641.8 952.0L642.2 952.0L642.6 952.0L643.0 952.0L643.4 952.0L643.8 952.0L644.2 952.0L644.6 952.0L645.0 952.0L645.4 952.0L645.8 952.0L646.2 952.0L646.5 952.0L646.9 952.0L647.3 952.0L647.7 952.0L648.1 952.0L648.5 952.0L648.9 952.0L649.3 952.0L649.7 952.0L650.1 952.0L650.5 952.0L650.9 952.0L651.3 952.0L651.7 952.0L652.1 952.0L652.5 952.0L652.9 952.0L653.3 952.0L653.7 952.0L654.1 952.0L654.5 952.0L654.9 952.0L655.3 952.0L655.7 952.0L656.1 952.0L656.5 952.0L656.9 952.0L657.3 952.0L657.7 952.0L658.1 952.0L658.5 952.0L658.9 952.0L659.3 952.0L659.7 952.0L660.1 952.0L660.5 952.0L660.9 952.0L661.3 952.0L661.7 952.0L662.1 952.0L662.5 952.0L662.9 952.0L663.3 952.0L663.7 952.0L664.1 952.0L664.5 952.0L664.9 952.0L665.3 952.0L665.7 952.0L666.1 952.0L666.5 952.0L666.9 952.0L667.3 952.0L667.7 952.0L668.1 952.0L668.5 952.0L668.9 952.0L669.3 952.0L669.7 952.0L670.1 952.0L670.5 952.0L670.9 952.0L671.3 952.0L671.7 952.0L672.1 952.0L672.5 952.0L672.9 952.0L673.3 952.0L673.7 952.0L674.1 952.0L674.5 952.0L674.9 952.0L675.3 952.0L675.6 952.0L676.0 952.0L676.4 952.0L676.8 952.0L677.2 952.0L677.6 952.0L678.0 952.0L678.4 952.0L678.8 952.0L679.2 952.0L679.6 952.0L680.0 952.0L680.4 952.0L680.8 952.0L681.2 952.0L681.6 952.0L682.0 952.0L682.4 952.0L682.8 952.0L683.0 952.0L683.2 951.1L683.6 946.3L684.0 941.8L684.2 941.2L684.4 936.1L684.9 918.4L685.2 907.5L685.6 871.2L686.0 834.1L686.4 821.9L686.8 844.1L687.2 880.3L687.6 903.4L688.4 900.4L688.8 853.8L689.2 774.5L689.7 718.8L690.0 736.5L690.4 800.6L690.8 869.3L691.2 906.4L691.6 912.5L692.0 901.8L692.4 833.1L692.8 703.1L693.2 579.5L693.5 543.1L694.0 669.2L694.4 835.0L694.8 907.1L695.0 910.6L695.2 908.9L695.6 856.3L696.0 721.1L696.5 603.0L696.8 636.0L697.2 760.5L697.6 872.7L698.0 907.9L698.4 906.7L698.8 880.3L699.2 822.2L699.6 774.1L699.7 769.1L700.0 780.7L700.4 835.8L700.8 889.9L701.2 909.1L701.6 909.3L702.0 903.0L702.4 887.5L702.8 873.5L703.0 871.4L703.2 873.9L703.6 889.3L704.0 905.8L704.4 912.3L704.7 911.9L705.1 890.7L705.5 833.1L705.9 775.9L706.2 764.8L706.3 770.8L706.7 822.1L707.1 882.0L707.5 908.5L707.9 909.5L708.3 873.7L708.7 763.8L709.1 645.0L709.4 615.5L709.5 621.0L709.9 694.0L710.3 804.1L710.7 884.3L711.1 909.2L711.3 909.9L711.5 907.6L711.9 863.7L712.3 742.6L712.7 589.6L713.2 499.2L713.5 549.1L713.9 705.9L714.3 851.8L714.7 909.1L715.0 912.3L715.1 911.6L715.5 881.2L715.9 786.5L716.3 669.3L716.7 617.2L717.1 686.4L717.5 820.0L717.9 903.7L718.7 907.3L719.1 862.5L719.5 800.2L719.9 775.3L720.3 811.9L720.7 871.9L721.1 905.9L721.4 910.0L721.9 905.8L722.3 888.1L722.7 865.8L723.0 858.5L723.5 872.6L723.9 892.4L724.3 902.5L724.6 903.5L725.1 891.4L725.5 849.0L725.9 800.3L726.1 787.6L726.7 832.1L727.1 885.5L727.5 910.0L727.9 911.0L728.3 873.2L728.7 758.0L729.1 637.6L729.3 613.2L729.5 624.8L729.9 726.7L730.3 846.5L730.7 898.4L730.9 901.6L731.1 900.3L731.5 849.4L731.9 699.2L732.3 541.8L732.5 507.7L732.7 519.2L733.1 636.1L733.5 792.8L733.9 884.2L734.2 899.5L734.6 886.0L735.0 804.4L735.4 663.3L735.8 556.7L736.0 545.9L736.2 571.3L736.6 696.6L737.0 833.5L737.4 899.0L737.8 905.7L738.2 896.1L738.6 857.0L739.0 800.4L739.5 766.1L739.8 788.9L740.2 852.5L740.6 900.2L741.4 908.7L741.8 895.6L742.2 874.1L743.0 874.2L743.4 898.9L743.8 915.0L744.2 917.6L744.6 913.1L745.0 889.1L745.4 854.9L746.2 862.8L746.6 899.5L747.0 920.2L747.8 905.7L748.2 836.5L748.6 750.4L748.9 723.9L749.4 774.7L749.8 850.3L750.2 899.8L750.6 910.6L751.0 901.3L751.4 825.9L751.8 678.2L752.2 551.1L752.4 530.0L752.6 546.1L753.0 668.2L753.4 819.4L753.8 901.6L754.1 913.4L754.6 894.6L755.0 796.3L755.4 637.3L755.9 519.1L756.2 559.9L756.6 717.4L757.0 857.9L757.4 901.1L757.5 901.7L757.8 898.0L758.2 850.3L758.6 748.5L759.0 668.4L759.1 661.7L759.4 684.5L759.8 779.2L760.2 867.0L760.6 896.1L761.0 895.6L761.4 878.2L761.8 838.3L762.2 803.9L762.3 799.7L762.6 807.5L763.0 848.6L763.3 890.3L763.7 905.8L764.1 906.0L764.5 898.5L764.9 879.4L765.3 861.3L765.5 858.3L765.7 861.0L766.1 879.6L766.5 900.2L766.9 908.7L767.3 908.6L767.7 889.4L768.1 834.5L768.5 777.9L768.8 765.8L768.9 770.5L769.3 818.2L769.7 876.1L770.1 902.8L770.5 904.2L770.9 871.8L771.3 767.1L771.7 649.4L772.0 617.8L772.5 704.1L772.9 823.0L773.3 897.5L773.8 912.3L774.1 900.8L774.5 816.4L774.9 659.0L775.3 530.0L775.5 511.7L775.7 533.1L776.1 668.9L776.5 828.9L776.9 912.4L777.2 923.0L777.7 902.9L778.1 806.9L778.5 658.6L779.0 555.6L779.3 593.6L779.7 729.2L780.1 862.4L780.5 918.5L780.8 922.4L780.9 922.1L781.3 906.4L781.7 853.2L782.1 783.9L782.5 749.5L782.9 759.4L783.3 787.4L783.7 824.0L784.1 857.9L784.5 881.0L784.9 891.0L785.3 892.7L785.7 890.0L786.1 873.7L786.5 852.7L786.7 848.2L786.9 849.1L787.3 857.0L787.7 868.7L788.1 877.4L788.5 880.5L788.7 880.7L788.9 880.6L789.3 877.3L789.7 866.0L790.1 849.0L790.5 835.5L790.7 832.8L790.9 834.7L791.3 848.9L791.7 854.5L792.0 852.9L792.4 841.3L792.8 823.3L793.2 815.7L793.6 826.3L794.0 830.0L794.4 813.9L794.7 802.0L794.8 802.4L795.2 807.5L795.6 814.3L796.0 818.0L796.4 818.6L796.8 817.6L797.2 812.8L797.6 804.8L798.0 798.7L798.2 798.0L798.4 799.8L798.8 809.7L799.2 822.4L799.6 831.2L800.0 833.9L800.2 834.0L800.4 833.8L800.8 830.4L801.2 822.3L801.6 815.0L801.8 814.0L802.0 815.2L802.4 822.7L802.8 831.8L803.2 835.7L803.6 835.2L804.0 834.2L804.4 833.2L804.8 832.8L805.2 834.9L805.6 839.8L806.0 844.2L806.3 845.4L806.8 844.2L807.2 842.3L807.6 840.7L807.9 840.2L808.4 841.8L808.8 844.2L809.2 845.4L809.6 844.2L810.0 841.3L810.4 838.1L810.9 836.2L811.2 836.5L811.6 837.6L812.0 838.7L812.3 839.1L812.8 837.2L813.2 834.3L813.6 832.8L814.0 833.1L814.4 833.9L814.9 834.5L815.2 834.1L815.6 832.2L816.0 829.9L816.4 828.8L816.8 829.6L817.2 830.5L817.6 830.3L818.0 829.6L818.4 829.1L818.5 829.1L818.8 829.1L819.2 829.1L819.6 829.1L820.0 829.1L820.4 829.0L820.8 829.0L821.1 829.0L821.5 829.0L821.9 829.0L822.3 829.0L822.7 828.9L823.1 828.9L823.5 828.9L823.9 828.9L824.3 828.9L824.7 828.9L825.1 828.8L825.5 828.8L825.9 828.8L826.3 828.8L826.7 828.7L827.1 828.7L827.5 828.7L827.9 828.7L828.3 828.7L828.7 828.6L829.1 828.6L829.5 828.6L829.9 828.6L830.3 828.5L830.7 828.5L831.1 828.5L831.5 828.5L831.9 828.4L832.3 828.4L832.7 828.4L833.1 828.4L833.5 828.3L833.9 828.3L834.3 828.3L834.7 828.3L835.1 828.2L835.5 828.2L835.9 828.2L836.3 828.2L836.7 828.1L837.1 828.1L837.5 828.1L837.9 828.1L838.3 828.1L838.7 828.0L839.1 828.0L839.5 828.0L839.9 828.0L840.3 827.9L840.7 827.9L841.1 827.9L841.5 827.9L841.9 827.9L842.3 827.8L842.7 827.8L843.1 827.8L843.5 827.8L843.9 827.8L844.3 827.7L844.7 827.7L845.1 827.7L845.5 827.7L845.9 827.7L846.3 827.6L846.7 827.6L847.1 827.6L847.5 827.6L847.9 827.6L848.3 827.5L848.7 827.5L849.1 827.5L849.5 827.5L849.9 827.5L850.2 827.4L850.6 827.4L851.0 827.4L851.4 827.4L851.8 827.4L852.2 827.3L852.6 827.3L853.0 827.3L853.4 827.3L853.8 827.3L854.2 827.2L854.6 827.2L855.0 827.2L855.4 827.2L855.8 827.2L856.2 827.1L856.6 827.1L857.0 827.1L857.4 827.1L857.8 827.1L858.2 827.0L858.6 827.0L859.0 827.0L859.4 827.0L859.8 826.9L860.2 826.9L860.6 826.9L861.0 826.9L861.4 826.9L861.8 826.8L862.2 826.8L862.6 826.8L863.0 826.8L863.4 826.8L863.8 826.7L864.2 826.7L864.6 826.7L865.0 826.7L865.4 826.7L865.8 826.6L866.2 826.6L866.6 826.6L867.0 826.6L867.4 826.6L867.8 826.6L868.2 826.5L868.6 826.5L869.0 826.5L869.4 826.5L869.8 826.5L870.2 826.4L870.6 826.4L871.0 826.4L871.4 826.4L871.8 826.4L872.2 826.3L872.6 826.3L873.0 826.3L873.4 826.3L873.8 826.3L874.2 826.2L874.6 826.2L875.0 826.2L875.4 826.2L875.8 826.2L876.2 826.1L876.6 826.1L877.0 826.1L877.4 826.1L877.8 826.1L878.2 826.1L878.6 826.0L879.0 826.0L879.4 826.0L879.7 826.0L880.1 826.0L880.5 825.9L880.9 825.9L881.3 825.9L881.7 825.9L882.1 825.9L882.5 825.8L882.9 825.8L883.3 825.8L883.7 825.8L884.1 825.8L884.5 825.8L884.9 825.7L885.3 825.7L885.7 825.7L886.1 825.7L886.5 825.7L886.9 825.6L887.3 825.6L887.7 825.6L888.1 825.6L888.5 825.6L888.9 825.6L889.3 825.5L889.7 825.5L890.1 825.5L890.5 825.5L890.9 825.5L891.3 825.4L891.7 825.4L892.1 825.4L892.5 825.4L892.9 825.4L893.3 825.4L893.7 825.3L894.1 825.3L894.5 825.3L894.9 825.3L895.3 825.3L895.7 825.3L896.1 825.2L896.5 825.2L896.9 825.2L897.3 825.2L897.7 825.2L898.1 825.1L898.5 825.1L898.9 825.1L899.3 825.1L899.7 825.1L900.1 825.1L900.5 825.0L900.9 825.0L901.3 825.0L901.7 825.0L902.1 825.0L902.5 825.0L902.9 824.9L903.3 824.9L903.7 824.9L904.1 824.9L904.5 824.9L904.9 824.9L905.3 824.8L905.7 824.8L906.1 824.8L906.5 824.8L906.9 824.8L907.3 824.8L907.7 824.7L908.1 824.7L908.5 824.7L908.8 824.7L909.2 824.7L909.6 824.7L910.0 824.6L910.4 824.6L910.8 824.6L911.2 824.6L911.6 824.6L912.0 824.6L912.4 824.5L912.8 824.5L913.2 824.5L913.6 824.5L914.0 824.5L914.4 824.5L914.8 824.4L915.2 824.4L915.6 824.4L916.0 824.4L916.4 824.4L916.8 824.4L917.2 824.4L917.6 824.3L918.0 824.3L918.4 824.3L918.8 824.3L919.2 824.3L919.6 824.3L920.0 824.3L920.4 824.2L920.8 824.2L921.2 824.2L921.6 824.2L922.0 824.2L922.4 824.2L922.8 824.2L923.2 824.1L923.6 824.1L924.0 824.1L924.4 824.1L924.8 824.1L925.2 824.1L925.6 824.1L926.0 824.0L926.4 824.0L926.8 824.0L927.2 824.0L927.6 824.0L928.0 824.0L928.4 824.0L928.8 823.9L929.2 823.9L929.6 823.9L930.0 823.9L930.4 823.9L930.8 823.9L931.2 823.9L931.6 823.9L932.0 823.8L932.4 823.8L932.8 823.8L933.2 823.8L933.6 823.8L934.0 823.8L934.4 823.8L934.8 823.7L935.2 823.7L935.6 823.7L936.0 823.7L936.4 823.7L936.8 823.7L937.2 823.7L937.6 823.7L937.9 823.6L938.3 823.6L938.7 823.6L939.1 823.6L939.5 823.6L939.9 823.6L940.3 823.6L940.7 823.6L941.1 823.5L941.5 823.5L941.9 823.5L942.3 823.5L942.7 823.5L943.1 823.5L943.5 823.5L943.9 823.5L944.3 823.5L944.7 823.4L945.1 823.4L945.5 823.4L945.9 823.4L946.3 823.4L946.7 823.4L947.1 823.4L947.5 823.4L947.9 823.3L948.3 823.3L948.7 823.3L949.1 823.3L949.5 823.3L949.9 823.3L950.3 823.3L950.7 823.3L951.1 823.3L951.5 823.3L951.9 823.2L952.3 823.2" stroke="#cc2027" stroke-width="1.25"/>
</g>
<line x1="151" y1="488.8" x2="200.2" y2="488.8" stroke="#8fc25c" stroke-width="1.6"/>
<line x1="151" y1="529.6" x2="200.2" y2="529.6" stroke="#cc2229" stroke-width="1.4"/>
<text font-family="'Liberation Serif', serif" font-size="29" fill="#000" stroke="#000" stroke-width="0.45" y="495"><tspan x="208.2" font-style="italic">d</tspan> <tspan x="233.7" dy="2.6" font-size="34.2">=</tspan> <tspan x="262.3" dy="-2.6">4</tspan><tspan x="277.6" font-style="italic">R</tspan></text>
<text font-family="'Liberation Serif', serif" font-size="29" fill="#000" stroke="#000" stroke-width="0.45" y="535"><tspan x="203.7" font-style="italic">d</tspan> <tspan x="229.4" dy="2.6" font-size="34.2">=</tspan> <tspan x="258.9" dy="-2.6">1</tspan><tspan x="273.5">2</tspan><tspan x="288.9" font-style="italic">R</tspan></text>
<rect x="136.3" y="433.6" width="816.0" height="570.3" fill="none" stroke="#231f20" stroke-width="1.3"/>
<text x="136.3" y="1040" font-family="'Liberation Serif', serif" font-size="41" text-anchor="middle" fill="#000">0</text>
<text x="340.3" y="1040" font-family="'Liberation Serif', serif" font-size="41" text-anchor="middle" fill="#000">512</text>
<text x="544.3" y="1040" font-family="'Liberation Serif', serif" font-size="41" text-anchor="middle" fill="#000">1024</text>
<text x="748.3" y="1040" font-family="'Liberation Serif', serif" font-size="41" text-anchor="middle" fill="#000">1536</text>
<text x="952.3" y="1040" font-family="'Liberation Serif', serif" font-size="41" text-anchor="middle" fill="#000">2048</text>
<text x="129.6" y="447.2" font-family="'Liberation Serif', serif" font-size="41" text-anchor="end" fill="#000">0.4</text>
<text x="129.6" y="561.3" font-family="'Liberation Serif', serif" font-size="41" text-anchor="end" fill="#000">0.2</text>
<text x="129.6" y="675.3" font-family="'Liberation Serif', serif" font-size="41" text-anchor="end" fill="#000">0.0</text>
<text x="129.6" y="789.4" font-family="'Liberation Serif', serif" font-size="41" text-anchor="end" fill="#000">-0.2</text>
<text x="129.6" y="903.4" font-family="'Liberation Serif', serif" font-size="41" text-anchor="end" fill="#000">-0.4</text>
<text x="129.6" y="1017.5" font-family="'Liberation Serif', serif" font-size="41" text-anchor="end" fill="#000">-0.6</text>
<text x="550.3" y="1093.2" font-family="'Liberation Serif', serif" font-size="56" font-style="italic" text-anchor="middle" fill="#000" stroke="#000" stroke-width="0.6">x</text>
<text transform="translate(38.4,0) rotate(-90)" font-family="'Liberation Serif', serif" fill="#000" stroke="#000" stroke-width="0.6" y="0"><tspan x="-753.5" font-size="56" font-style="italic">ψ</tspan><tspan x="-713.0" font-size="58" font-style="normal">(</tspan><tspan x="-694.2" font-size="56" font-style="italic">x</tspan><tspan x="-666.5" font-size="58" font-style="normal">)</tspan></text>
<text x="875.6" y="487.3" font-family="'Liberation Sans', sans-serif" font-size="47.5" fill="#000" stroke="#000" stroke-width="0.4" textLength="30.0" lengthAdjust="spacingAndGlyphs">C</text>
</g>
</svg>
</body></html>
